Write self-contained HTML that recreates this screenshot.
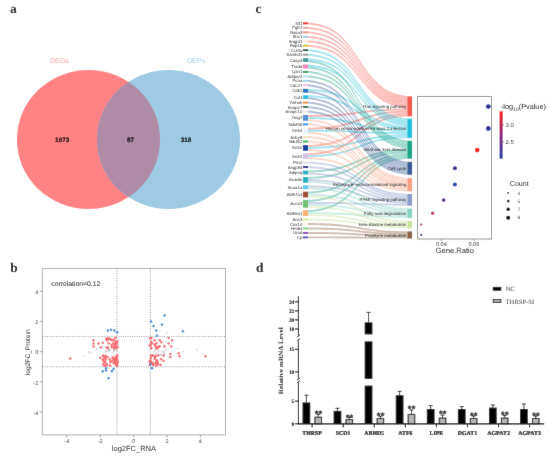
<!DOCTYPE html>
<html><head><meta charset="utf-8"><title>Figure</title>
<style>html,body{margin:0;padding:0;background:#fff;width:550px;height:459px;overflow:hidden}svg{display:block}text{text-rendering:geometricPrecision;filter:opacity(0.999)}</style>
</head><body>
<svg width="550" height="459" viewBox="0 0 550 459">
<defs><filter id="soft" x="0" y="0" width="550" height="459" filterUnits="userSpaceOnUse"><feConvolveMatrix order="3" kernelMatrix="0.00524 0.06192 0.00524 0.06192 0.73137 0.06192 0.00524 0.06192 0.00524" divisor="1" edgeMode="duplicate"/></filter></defs>
<g filter="url(#soft)">
<rect width="550" height="459" fill="#fff"/>
<text x="9.9" y="12.9" style="font-family:'Liberation Serif',serif;font-weight:bold;font-size:13.4px" fill="#000">a</text>
<text x="255.6" y="12.9" style="font-family:'Liberation Serif',serif;font-weight:bold;font-size:13.4px" fill="#000">c</text>
<text x="10.3" y="272.2" style="font-family:'Liberation Serif',serif;font-weight:bold;font-size:13.4px" fill="#000">b</text>
<text x="255.9" y="272.1" style="font-family:'Liberation Serif',serif;font-weight:bold;font-size:13.4px" fill="#000">d</text>
<defs><clipPath id="cpL"><ellipse cx="88.5" cy="139.5" rx="71.6" ry="69.6"/></clipPath></defs>
<ellipse cx="88.5" cy="139.5" rx="71.6" ry="69.6" fill="#ff8284"/>
<ellipse cx="168.5" cy="139.5" rx="71.6" ry="69.6" fill="#9fcae4"/>
<ellipse cx="168.5" cy="139.5" rx="71.6" ry="69.6" fill="#b08ba6" clip-path="url(#cpL)"/>
<text x="50" y="63.1" style="font-family:'Liberation Sans',sans-serif;font-size:7.1px" fill="#fba3a5">DEGs</text>
<text x="186.9" y="63.1" style="font-family:'Liberation Sans',sans-serif;font-size:7.1px" fill="#9dc9e6">DEPs</text>
<text x="62.2" y="141.6" text-anchor="middle" style="font-family:'Liberation Sans',sans-serif;font-weight:bold;font-size:6.4px" fill="#000" stroke="#000" stroke-width="0.15">1673</text>
<text x="130.6" y="141.6" text-anchor="middle" style="font-family:'Liberation Sans',sans-serif;font-weight:bold;font-size:6.4px" fill="#000" stroke="#000" stroke-width="0.15">87</text>
<text x="186" y="141.6" text-anchor="middle" style="font-family:'Liberation Sans',sans-serif;font-weight:bold;font-size:6.4px" fill="#000" stroke="#000" stroke-width="0.15">318</text>
<rect x="42.4" y="268.5" width="183.1" height="166.39999999999998" fill="none" stroke="#b4b4b4" stroke-width="1.1"/>
<line x1="116.90" y1="268.5" x2="116.90" y2="434.9" stroke="#555" stroke-width="0.7" stroke-dasharray="0.9 1.4"/>
<line x1="42.4" y1="366.81" x2="225.5" y2="366.81" stroke="#555" stroke-width="0.7" stroke-dasharray="0.9 1.4"/>
<line x1="150.30" y1="268.5" x2="150.30" y2="434.9" stroke="#555" stroke-width="0.7" stroke-dasharray="0.9 1.4"/>
<line x1="42.4" y1="336.59" x2="225.5" y2="336.59" stroke="#555" stroke-width="0.7" stroke-dasharray="0.9 1.4"/>
<line x1="66.80" y1="434.9" x2="66.80" y2="437.5" stroke="#6a6a6a" stroke-width="0.6"/>
<text x="66.80" y="443.4" text-anchor="middle" style="font-family:'Liberation Sans',sans-serif;font-size:5.6px" fill="#444">-4</text>
<line x1="39.6" y1="412.14" x2="42.4" y2="412.14" stroke="#6a6a6a" stroke-width="0.6"/>
<text x="38.3" y="414.74" text-anchor="end" style="font-family:'Liberation Sans',sans-serif;font-size:5.6px" fill="#444">-4</text>
<line x1="100.20" y1="434.9" x2="100.20" y2="437.5" stroke="#6a6a6a" stroke-width="0.6"/>
<text x="100.20" y="443.4" text-anchor="middle" style="font-family:'Liberation Sans',sans-serif;font-size:5.6px" fill="#444">-2</text>
<line x1="39.6" y1="381.92" x2="42.4" y2="381.92" stroke="#6a6a6a" stroke-width="0.6"/>
<text x="38.3" y="384.52" text-anchor="end" style="font-family:'Liberation Sans',sans-serif;font-size:5.6px" fill="#444">-2</text>
<line x1="133.60" y1="434.9" x2="133.60" y2="437.5" stroke="#6a6a6a" stroke-width="0.6"/>
<text x="133.60" y="443.4" text-anchor="middle" style="font-family:'Liberation Sans',sans-serif;font-size:5.6px" fill="#444">0</text>
<line x1="39.6" y1="351.70" x2="42.4" y2="351.70" stroke="#6a6a6a" stroke-width="0.6"/>
<text x="38.3" y="354.30" text-anchor="end" style="font-family:'Liberation Sans',sans-serif;font-size:5.6px" fill="#444">0</text>
<line x1="167.00" y1="434.9" x2="167.00" y2="437.5" stroke="#6a6a6a" stroke-width="0.6"/>
<text x="167.00" y="443.4" text-anchor="middle" style="font-family:'Liberation Sans',sans-serif;font-size:5.6px" fill="#444">2</text>
<line x1="39.6" y1="321.48" x2="42.4" y2="321.48" stroke="#6a6a6a" stroke-width="0.6"/>
<text x="38.3" y="324.08" text-anchor="end" style="font-family:'Liberation Sans',sans-serif;font-size:5.6px" fill="#444">2</text>
<line x1="200.40" y1="434.9" x2="200.40" y2="437.5" stroke="#6a6a6a" stroke-width="0.6"/>
<text x="200.40" y="443.4" text-anchor="middle" style="font-family:'Liberation Sans',sans-serif;font-size:5.6px" fill="#444">4</text>
<line x1="39.6" y1="291.26" x2="42.4" y2="291.26" stroke="#6a6a6a" stroke-width="0.6"/>
<text x="38.3" y="293.86" text-anchor="end" style="font-family:'Liberation Sans',sans-serif;font-size:5.6px" fill="#444">4</text>
<text x="51.3" y="286.3" style="font-family:'Liberation Sans',sans-serif;font-size:6.8px" fill="#000">correlation=0.12</text>
<text x="133.9" y="450.6" text-anchor="middle" style="font-family:'Liberation Sans',sans-serif;font-size:7.5px" fill="#1a1a1a">log2FC_RNA</text>
<text transform="translate(30.2,352.2) rotate(-90)" text-anchor="middle" style="font-family:'Liberation Sans',sans-serif;font-size:6.6px" fill="#1a1a1a">log2FC_Protein</text>
<circle cx="163.49" cy="345.01" r="0.75" fill="#c8c8c8"/>
<circle cx="116.03" cy="349.61" r="0.75" fill="#c8c8c8"/>
<circle cx="110.38" cy="350.21" r="0.75" fill="#c8c8c8"/>
<circle cx="158.80" cy="351.00" r="0.75" fill="#c8c8c8"/>
<circle cx="108.14" cy="347.06" r="0.75" fill="#c8c8c8"/>
<circle cx="115.34" cy="349.80" r="0.75" fill="#c8c8c8"/>
<circle cx="114.73" cy="349.30" r="0.75" fill="#c8c8c8"/>
<circle cx="108.31" cy="349.51" r="0.75" fill="#c8c8c8"/>
<circle cx="108.67" cy="350.48" r="0.75" fill="#c8c8c8"/>
<circle cx="108.91" cy="351.19" r="0.75" fill="#c8c8c8"/>
<circle cx="164.18" cy="353.54" r="0.75" fill="#c8c8c8"/>
<circle cx="113.23" cy="349.52" r="0.75" fill="#c8c8c8"/>
<circle cx="163.45" cy="352.10" r="0.75" fill="#c8c8c8"/>
<circle cx="110.62" cy="354.79" r="0.75" fill="#c8c8c8"/>
<circle cx="157.65" cy="346.26" r="0.75" fill="#c8c8c8"/>
<circle cx="155.56" cy="350.33" r="0.75" fill="#c8c8c8"/>
<circle cx="157.16" cy="346.83" r="0.75" fill="#c8c8c8"/>
<circle cx="151.28" cy="359.38" r="0.75" fill="#c8c8c8"/>
<circle cx="165.23" cy="350.35" r="0.75" fill="#c8c8c8"/>
<circle cx="161.89" cy="354.48" r="0.75" fill="#c8c8c8"/>
<circle cx="159.48" cy="354.35" r="0.75" fill="#c8c8c8"/>
<circle cx="154.02" cy="351.59" r="0.75" fill="#c8c8c8"/>
<circle cx="166.88" cy="349.78" r="0.75" fill="#c8c8c8"/>
<circle cx="177.66" cy="348.39" r="0.75" fill="#c8c8c8"/>
<circle cx="165.13" cy="353.22" r="0.75" fill="#c8c8c8"/>
<circle cx="114.25" cy="355.07" r="0.75" fill="#c8c8c8"/>
<circle cx="116.72" cy="350.53" r="0.75" fill="#c8c8c8"/>
<circle cx="156.60" cy="353.79" r="0.75" fill="#c8c8c8"/>
<circle cx="155.09" cy="346.43" r="0.75" fill="#c8c8c8"/>
<circle cx="103.81" cy="346.39" r="0.75" fill="#c8c8c8"/>
<circle cx="156.22" cy="355.50" r="0.75" fill="#c8c8c8"/>
<circle cx="113.76" cy="351.26" r="0.75" fill="#c8c8c8"/>
<circle cx="107.87" cy="347.79" r="0.75" fill="#c8c8c8"/>
<circle cx="96.40" cy="348.77" r="0.75" fill="#c8c8c8"/>
<circle cx="96.39" cy="349.99" r="0.75" fill="#c8c8c8"/>
<circle cx="157.43" cy="349.39" r="0.75" fill="#c8c8c8"/>
<circle cx="83.73" cy="355.95" r="0.75" fill="#c8c8c8"/>
<circle cx="105.63" cy="350.78" r="0.75" fill="#c8c8c8"/>
<circle cx="160.70" cy="354.25" r="0.75" fill="#c8c8c8"/>
<circle cx="158.46" cy="351.96" r="0.75" fill="#c8c8c8"/>
<circle cx="112.42" cy="352.73" r="0.75" fill="#c8c8c8"/>
<circle cx="163.95" cy="352.99" r="0.75" fill="#c8c8c8"/>
<circle cx="158.30" cy="351.09" r="0.75" fill="#c8c8c8"/>
<circle cx="105.05" cy="355.02" r="0.75" fill="#c8c8c8"/>
<circle cx="89.57" cy="351.87" r="0.75" fill="#c8c8c8"/>
<circle cx="150.74" cy="354.40" r="0.75" fill="#c8c8c8"/>
<circle cx="109.80" cy="349.91" r="0.75" fill="#c8c8c8"/>
<circle cx="164.38" cy="346.87" r="0.75" fill="#c8c8c8"/>
<circle cx="162.48" cy="351.20" r="0.75" fill="#c8c8c8"/>
<circle cx="109.65" cy="349.04" r="0.75" fill="#c8c8c8"/>
<circle cx="107.09" cy="351.21" r="0.75" fill="#c8c8c8"/>
<circle cx="90.77" cy="353.21" r="0.75" fill="#c8c8c8"/>
<circle cx="114.22" cy="350.87" r="0.75" fill="#c8c8c8"/>
<circle cx="161.47" cy="354.99" r="0.75" fill="#c8c8c8"/>
<circle cx="114.34" cy="350.19" r="0.75" fill="#c8c8c8"/>
<circle cx="155.18" cy="350.15" r="0.75" fill="#c8c8c8"/>
<circle cx="155.57" cy="353.61" r="0.75" fill="#c8c8c8"/>
<circle cx="105.98" cy="352.30" r="0.75" fill="#c8c8c8"/>
<circle cx="102.87" cy="358.70" r="0.75" fill="#c8c8c8"/>
<circle cx="113.70" cy="348.61" r="0.75" fill="#c8c8c8"/>
<circle cx="113.64" cy="340.37" r="1.25" fill="#f56e72"/>
<circle cx="115.67" cy="342.76" r="1.25" fill="#f56e72"/>
<circle cx="108.00" cy="348.02" r="1.25" fill="#f56e72"/>
<circle cx="109.83" cy="338.91" r="1.25" fill="#f56e72"/>
<circle cx="111.19" cy="339.81" r="1.25" fill="#f56e72"/>
<circle cx="113.43" cy="339.68" r="1.25" fill="#f56e72"/>
<circle cx="107.09" cy="347.26" r="1.25" fill="#f56e72"/>
<circle cx="116.96" cy="343.12" r="1.25" fill="#f56e72"/>
<circle cx="107.20" cy="340.23" r="1.25" fill="#f56e72"/>
<circle cx="112.07" cy="340.24" r="1.25" fill="#f56e72"/>
<circle cx="116.97" cy="347.14" r="1.25" fill="#f56e72"/>
<circle cx="111.91" cy="347.37" r="1.25" fill="#f56e72"/>
<circle cx="117.31" cy="341.25" r="1.25" fill="#f56e72"/>
<circle cx="113.24" cy="343.43" r="1.25" fill="#f56e72"/>
<circle cx="109.14" cy="339.07" r="1.25" fill="#f56e72"/>
<circle cx="117.33" cy="346.60" r="1.25" fill="#f56e72"/>
<circle cx="117.36" cy="347.61" r="1.25" fill="#f56e72"/>
<circle cx="114.28" cy="348.37" r="1.25" fill="#f56e72"/>
<circle cx="106.75" cy="347.99" r="1.25" fill="#f56e72"/>
<circle cx="115.67" cy="338.09" r="1.25" fill="#f56e72"/>
<circle cx="112.11" cy="346.51" r="1.25" fill="#f56e72"/>
<circle cx="116.11" cy="343.15" r="1.25" fill="#f56e72"/>
<circle cx="108.54" cy="343.15" r="1.25" fill="#f56e72"/>
<circle cx="116.34" cy="342.99" r="1.25" fill="#f56e72"/>
<circle cx="107.14" cy="338.58" r="1.25" fill="#f56e72"/>
<circle cx="106.13" cy="338.97" r="1.25" fill="#f56e72"/>
<circle cx="116.67" cy="343.81" r="1.25" fill="#f56e72"/>
<circle cx="114.71" cy="344.41" r="1.25" fill="#f56e72"/>
<circle cx="115.76" cy="341.38" r="1.25" fill="#f56e72"/>
<circle cx="114.57" cy="346.36" r="1.25" fill="#f56e72"/>
<circle cx="115.88" cy="347.35" r="1.25" fill="#f56e72"/>
<circle cx="109.13" cy="338.46" r="1.25" fill="#f56e72"/>
<circle cx="111.51" cy="344.69" r="1.25" fill="#f56e72"/>
<circle cx="116.30" cy="347.18" r="1.25" fill="#f56e72"/>
<circle cx="113.66" cy="363.26" r="1.25" fill="#f56e72"/>
<circle cx="117.19" cy="364.79" r="1.25" fill="#f56e72"/>
<circle cx="116.84" cy="362.39" r="1.25" fill="#f56e72"/>
<circle cx="116.41" cy="362.82" r="1.25" fill="#f56e72"/>
<circle cx="102.86" cy="359.48" r="1.25" fill="#f56e72"/>
<circle cx="114.30" cy="358.96" r="1.25" fill="#f56e72"/>
<circle cx="117.20" cy="359.06" r="1.25" fill="#f56e72"/>
<circle cx="115.32" cy="360.08" r="1.25" fill="#f56e72"/>
<circle cx="109.60" cy="359.26" r="1.25" fill="#f56e72"/>
<circle cx="112.91" cy="358.28" r="1.25" fill="#f56e72"/>
<circle cx="103.73" cy="356.27" r="1.25" fill="#f56e72"/>
<circle cx="104.79" cy="357.55" r="1.25" fill="#f56e72"/>
<circle cx="105.81" cy="355.95" r="1.25" fill="#f56e72"/>
<circle cx="115.99" cy="365.02" r="1.25" fill="#f56e72"/>
<circle cx="116.72" cy="363.36" r="1.25" fill="#f56e72"/>
<circle cx="107.12" cy="364.40" r="1.25" fill="#f56e72"/>
<circle cx="110.14" cy="365.46" r="1.25" fill="#f56e72"/>
<circle cx="114.50" cy="360.94" r="1.25" fill="#f56e72"/>
<circle cx="112.95" cy="360.48" r="1.25" fill="#f56e72"/>
<circle cx="115.44" cy="358.10" r="1.25" fill="#f56e72"/>
<circle cx="107.58" cy="357.05" r="1.25" fill="#f56e72"/>
<circle cx="105.36" cy="357.99" r="1.25" fill="#f56e72"/>
<circle cx="117.39" cy="356.00" r="1.25" fill="#f56e72"/>
<circle cx="116.10" cy="361.73" r="1.25" fill="#f56e72"/>
<circle cx="116.42" cy="357.94" r="1.25" fill="#f56e72"/>
<circle cx="117.07" cy="355.15" r="1.25" fill="#f56e72"/>
<circle cx="102.86" cy="359.63" r="1.25" fill="#f56e72"/>
<circle cx="104.87" cy="361.88" r="1.25" fill="#f56e72"/>
<circle cx="117.35" cy="362.85" r="1.25" fill="#f56e72"/>
<circle cx="104.30" cy="365.71" r="1.25" fill="#f56e72"/>
<circle cx="116.08" cy="357.02" r="1.25" fill="#f56e72"/>
<circle cx="104.45" cy="361.96" r="1.25" fill="#f56e72"/>
<circle cx="112.70" cy="357.30" r="1.25" fill="#f56e72"/>
<circle cx="113.97" cy="362.44" r="1.25" fill="#f56e72"/>
<circle cx="116.00" cy="363.89" r="1.25" fill="#f56e72"/>
<circle cx="102.85" cy="355.43" r="1.25" fill="#f56e72"/>
<circle cx="117.39" cy="360.60" r="1.25" fill="#f56e72"/>
<circle cx="103.28" cy="360.70" r="1.25" fill="#f56e72"/>
<circle cx="116.23" cy="359.96" r="1.25" fill="#f56e72"/>
<circle cx="110.48" cy="362.20" r="1.25" fill="#f56e72"/>
<circle cx="110.51" cy="361.05" r="1.25" fill="#f56e72"/>
<circle cx="105.52" cy="365.73" r="1.25" fill="#f56e72"/>
<circle cx="115.64" cy="357.40" r="1.25" fill="#f56e72"/>
<circle cx="116.36" cy="357.22" r="1.25" fill="#f56e72"/>
<circle cx="105.68" cy="363.06" r="1.25" fill="#f56e72"/>
<circle cx="116.98" cy="365.94" r="1.25" fill="#f56e72"/>
<circle cx="103.18" cy="364.26" r="1.25" fill="#f56e72"/>
<circle cx="117.39" cy="361.92" r="1.25" fill="#f56e72"/>
<circle cx="105.73" cy="359.78" r="1.25" fill="#f56e72"/>
<circle cx="117.32" cy="362.36" r="1.25" fill="#f56e72"/>
<circle cx="151.94" cy="343.17" r="1.25" fill="#f56e72"/>
<circle cx="161.36" cy="342.16" r="1.25" fill="#f56e72"/>
<circle cx="156.09" cy="348.19" r="1.25" fill="#f56e72"/>
<circle cx="150.39" cy="345.75" r="1.25" fill="#f56e72"/>
<circle cx="149.80" cy="344.72" r="1.25" fill="#f56e72"/>
<circle cx="151.45" cy="337.96" r="1.25" fill="#f56e72"/>
<circle cx="151.40" cy="348.30" r="1.25" fill="#f56e72"/>
<circle cx="159.53" cy="346.31" r="1.25" fill="#f56e72"/>
<circle cx="150.37" cy="345.03" r="1.25" fill="#f56e72"/>
<circle cx="149.94" cy="345.64" r="1.25" fill="#f56e72"/>
<circle cx="155.51" cy="345.98" r="1.25" fill="#f56e72"/>
<circle cx="157.53" cy="347.69" r="1.25" fill="#f56e72"/>
<circle cx="158.27" cy="347.11" r="1.25" fill="#f56e72"/>
<circle cx="154.47" cy="344.39" r="1.25" fill="#f56e72"/>
<circle cx="151.19" cy="341.83" r="1.25" fill="#f56e72"/>
<circle cx="149.94" cy="338.26" r="1.25" fill="#f56e72"/>
<circle cx="158.96" cy="346.99" r="1.25" fill="#f56e72"/>
<circle cx="159.74" cy="340.15" r="1.25" fill="#f56e72"/>
<circle cx="154.61" cy="340.36" r="1.25" fill="#f56e72"/>
<circle cx="156.56" cy="343.30" r="1.25" fill="#f56e72"/>
<circle cx="151.07" cy="361.85" r="1.25" fill="#f56e72"/>
<circle cx="150.17" cy="364.12" r="1.25" fill="#f56e72"/>
<circle cx="156.46" cy="360.68" r="1.25" fill="#f56e72"/>
<circle cx="152.46" cy="362.76" r="1.25" fill="#f56e72"/>
<circle cx="153.37" cy="365.06" r="1.25" fill="#f56e72"/>
<circle cx="157.11" cy="361.29" r="1.25" fill="#f56e72"/>
<circle cx="158.20" cy="355.20" r="1.25" fill="#f56e72"/>
<circle cx="155.99" cy="363.83" r="1.25" fill="#f56e72"/>
<circle cx="156.40" cy="365.57" r="1.25" fill="#f56e72"/>
<circle cx="155.30" cy="355.96" r="1.25" fill="#f56e72"/>
<circle cx="149.84" cy="362.05" r="1.25" fill="#f56e72"/>
<circle cx="161.12" cy="359.18" r="1.25" fill="#f56e72"/>
<circle cx="152.71" cy="355.58" r="1.25" fill="#f56e72"/>
<circle cx="149.81" cy="360.89" r="1.25" fill="#f56e72"/>
<circle cx="150.77" cy="357.93" r="1.25" fill="#f56e72"/>
<circle cx="152.78" cy="355.80" r="1.25" fill="#f56e72"/>
<circle cx="160.55" cy="364.93" r="1.25" fill="#f56e72"/>
<circle cx="149.97" cy="360.83" r="1.25" fill="#f56e72"/>
<circle cx="156.99" cy="360.25" r="1.25" fill="#f56e72"/>
<circle cx="158.13" cy="364.36" r="1.25" fill="#f56e72"/>
<circle cx="150.70" cy="363.37" r="1.25" fill="#f56e72"/>
<circle cx="150.67" cy="362.19" r="1.25" fill="#f56e72"/>
<circle cx="152.82" cy="364.35" r="1.25" fill="#f56e72"/>
<circle cx="149.92" cy="365.07" r="1.25" fill="#f56e72"/>
<circle cx="151.09" cy="355.54" r="1.25" fill="#f56e72"/>
<circle cx="155.15" cy="357.21" r="1.25" fill="#f56e72"/>
<circle cx="154.66" cy="358.68" r="1.25" fill="#f56e72"/>
<circle cx="155.44" cy="362.67" r="1.25" fill="#f56e72"/>
<circle cx="93.52" cy="340.37" r="1.25" fill="#f56e72"/>
<circle cx="93.52" cy="343.39" r="1.25" fill="#f56e72"/>
<circle cx="93.52" cy="346.41" r="1.25" fill="#f56e72"/>
<circle cx="98.53" cy="343.39" r="1.25" fill="#f56e72"/>
<circle cx="102.70" cy="342.63" r="1.25" fill="#f56e72"/>
<circle cx="101.03" cy="347.17" r="1.25" fill="#f56e72"/>
<circle cx="100.20" cy="357.74" r="1.25" fill="#f56e72"/>
<circle cx="70.14" cy="358.50" r="1.25" fill="#f56e72"/>
<circle cx="205.41" cy="356.23" r="1.25" fill="#f56e72"/>
<circle cx="170.34" cy="356.99" r="1.25" fill="#f56e72"/>
<circle cx="179.52" cy="356.23" r="1.25" fill="#f56e72"/>
<circle cx="178.69" cy="353.21" r="1.25" fill="#f56e72"/>
<circle cx="170.34" cy="353.97" r="1.25" fill="#f56e72"/>
<circle cx="163.66" cy="355.48" r="1.25" fill="#f56e72"/>
<circle cx="172.01" cy="340.37" r="1.25" fill="#f56e72"/>
<circle cx="168.67" cy="338.10" r="1.25" fill="#f56e72"/>
<circle cx="168.67" cy="343.39" r="1.25" fill="#f56e72"/>
<circle cx="164.50" cy="346.41" r="1.25" fill="#f56e72"/>
<circle cx="171.17" cy="346.41" r="1.25" fill="#f56e72"/>
<circle cx="157.81" cy="363.03" r="1.25" fill="#f56e72"/>
<circle cx="163.66" cy="360.77" r="1.25" fill="#f56e72"/>
<circle cx="107.72" cy="330.55" r="1.25" fill="#3f88d4"/>
<circle cx="111.05" cy="329.79" r="1.25" fill="#3f88d4"/>
<circle cx="114.39" cy="330.55" r="1.25" fill="#3f88d4"/>
<circle cx="117.23" cy="332.36" r="1.25" fill="#3f88d4"/>
<circle cx="106.05" cy="368.32" r="1.25" fill="#3f88d4"/>
<circle cx="102.70" cy="371.34" r="1.25" fill="#3f88d4"/>
<circle cx="111.89" cy="371.34" r="1.25" fill="#3f88d4"/>
<circle cx="113.56" cy="369.08" r="1.25" fill="#3f88d4"/>
<circle cx="108.55" cy="378.14" r="1.25" fill="#3f88d4"/>
<circle cx="106.05" cy="370.59" r="1.25" fill="#3f88d4"/>
<circle cx="164.50" cy="315.44" r="1.25" fill="#3f88d4"/>
<circle cx="151.13" cy="321.48" r="1.25" fill="#3f88d4"/>
<circle cx="161.99" cy="324.50" r="1.25" fill="#3f88d4"/>
<circle cx="153.64" cy="326.01" r="1.25" fill="#3f88d4"/>
<circle cx="156.14" cy="330.55" r="1.25" fill="#3f88d4"/>
<circle cx="182.87" cy="331.30" r="1.25" fill="#3f88d4"/>
<circle cx="156.98" cy="335.83" r="1.25" fill="#3f88d4"/>
<circle cx="151.97" cy="368.32" r="1.25" fill="#3f88d4"/>
<circle cx="150.30" cy="364.54" r="1.25" fill="#3f88d4"/>
<circle cx="197.06" cy="349.43" r="0.75" fill="#c8c8c8"/>
<circle cx="88.51" cy="352.46" r="0.75" fill="#c8c8c8"/>
<circle cx="167.00" cy="332.81" r="0.75" fill="#c8c8c8"/>
<circle cx="166.16" cy="341.88" r="0.75" fill="#c8c8c8"/>
<circle cx="183.70" cy="351.70" r="0.75" fill="#c8c8c8"/>
<rect x="302.9" y="22.40" width="5.10" height="1.92" fill="#f31b1b"/>
<text x="302.3" y="24.91" text-anchor="end" style="font-family:'Liberation Sans',sans-serif;font-size:4.3px" fill="#262626">Nf1</text>
<rect x="302.9" y="26.87" width="5.10" height="1.92" fill="#d6a0a0"/>
<text x="302.3" y="29.38" text-anchor="end" style="font-family:'Liberation Sans',sans-serif;font-size:4.3px" fill="#262626">Fgfr2</text>
<rect x="302.9" y="31.34" width="5.10" height="1.92" fill="#f18a8c"/>
<text x="302.3" y="33.85" text-anchor="end" style="font-family:'Liberation Sans',sans-serif;font-size:4.3px" fill="#262626">Rasa3</text>
<rect x="302.9" y="35.81" width="5.10" height="1.92" fill="#a3c3ea"/>
<text x="302.3" y="38.32" text-anchor="end" style="font-family:'Liberation Sans',sans-serif;font-size:4.3px" fill="#262626">Shc1</text>
<rect x="302.9" y="40.28" width="5.10" height="1.92" fill="#fdebd8"/>
<text x="302.3" y="42.79" text-anchor="end" style="font-family:'Liberation Sans',sans-serif;font-size:4.3px" fill="#262626">Angpt1</text>
<rect x="302.9" y="44.75" width="5.10" height="1.92" fill="#c9c61a"/>
<text x="302.3" y="47.26" text-anchor="end" style="font-family:'Liberation Sans',sans-serif;font-size:4.3px" fill="#262626">Rap1b</text>
<rect x="302.9" y="49.22" width="5.10" height="1.92" fill="#17584a"/>
<text x="302.3" y="51.73" text-anchor="end" style="font-family:'Liberation Sans',sans-serif;font-size:4.3px" fill="#262626">Cul4a</text>
<rect x="302.9" y="53.69" width="5.10" height="1.92" fill="#929292"/>
<text x="302.3" y="56.20" text-anchor="end" style="font-family:'Liberation Sans',sans-serif;font-size:4.3px" fill="#262626">Samhd1</text>
<rect x="302.9" y="58.16" width="5.10" height="3.84" fill="#3c9c9c"/>
<text x="302.3" y="61.63" text-anchor="end" style="font-family:'Liberation Sans',sans-serif;font-size:4.3px" fill="#262626">Casp3</text>
<rect x="302.9" y="64.55" width="5.10" height="3.84" fill="#f283c2"/>
<text x="302.3" y="68.02" text-anchor="end" style="font-family:'Liberation Sans',sans-serif;font-size:4.3px" fill="#262626">Tradd</text>
<rect x="302.9" y="70.94" width="5.10" height="1.92" fill="#1a9a5a"/>
<text x="302.3" y="73.45" text-anchor="end" style="font-family:'Liberation Sans',sans-serif;font-size:4.3px" fill="#262626">Lpin1</text>
<rect x="302.9" y="75.41" width="5.10" height="1.92" fill="#b3e2f1"/>
<text x="302.3" y="77.92" text-anchor="end" style="font-family:'Liberation Sans',sans-serif;font-size:4.3px" fill="#262626">Adipor2</text>
<rect x="302.9" y="79.88" width="5.10" height="1.92" fill="#a9d0ea"/>
<text x="302.3" y="82.39" text-anchor="end" style="font-family:'Liberation Sans',sans-serif;font-size:4.3px" fill="#262626">Pcna</text>
<rect x="302.9" y="84.35" width="5.10" height="1.92" fill="#f7b9d9"/>
<text x="302.3" y="86.86" text-anchor="end" style="font-family:'Liberation Sans',sans-serif;font-size:4.3px" fill="#262626">Cdc27</text>
<rect x="302.9" y="88.82" width="5.10" height="3.84" fill="#1b70b9"/>
<text x="302.3" y="92.29" text-anchor="end" style="font-family:'Liberation Sans',sans-serif;font-size:4.3px" fill="#262626">Cdk1</text>
<rect x="302.9" y="95.21" width="5.10" height="3.84" fill="#24c1e1"/>
<text x="302.3" y="98.68" text-anchor="end" style="font-family:'Liberation Sans',sans-serif;font-size:4.3px" fill="#262626">Cul1</text>
<rect x="302.9" y="101.60" width="5.10" height="1.92" fill="#f88a32"/>
<text x="302.3" y="104.11" text-anchor="end" style="font-family:'Liberation Sans',sans-serif;font-size:4.3px" fill="#262626">Ywhah</text>
<rect x="302.9" y="106.07" width="5.10" height="1.92" fill="#127232"/>
<text x="302.3" y="108.58" text-anchor="end" style="font-family:'Liberation Sans',sans-serif;font-size:4.3px" fill="#262626">Anapc7</text>
<rect x="302.9" y="110.54" width="5.10" height="1.92" fill="#eeeae0"/>
<text x="302.3" y="113.05" text-anchor="end" style="font-family:'Liberation Sans',sans-serif;font-size:4.3px" fill="#262626">Anapc10</text>
<rect x="302.9" y="115.01" width="5.10" height="5.76" fill="#5291d8"/>
<text x="302.3" y="119.44" text-anchor="end" style="font-family:'Liberation Sans',sans-serif;font-size:4.3px" fill="#262626">Gng7</text>
<rect x="302.9" y="123.32" width="5.10" height="1.92" fill="#2191e1"/>
<text x="302.3" y="125.83" text-anchor="end" style="font-family:'Liberation Sans',sans-serif;font-size:4.3px" fill="#262626">Ndufb5</text>
<rect x="302.9" y="127.79" width="5.10" height="5.76" fill="#e9f4fa"/>
<text x="302.3" y="132.22" text-anchor="end" style="font-family:'Liberation Sans',sans-serif;font-size:4.3px" fill="#262626">Gnb4</text>
<rect x="302.9" y="136.10" width="5.10" height="1.92" fill="#f9e1b1"/>
<text x="302.3" y="138.61" text-anchor="end" style="font-family:'Liberation Sans',sans-serif;font-size:4.3px" fill="#262626">Adcy8</text>
<rect x="302.9" y="140.57" width="5.10" height="1.92" fill="#22b142"/>
<text x="302.3" y="143.08" text-anchor="end" style="font-family:'Liberation Sans',sans-serif;font-size:4.3px" fill="#262626">Ndufs2</text>
<rect x="302.9" y="145.04" width="5.10" height="5.76" fill="#1242a2"/>
<text x="302.3" y="149.47" text-anchor="end" style="font-family:'Liberation Sans',sans-serif;font-size:4.3px" fill="#262626">Gnb2</text>
<rect x="302.9" y="153.35" width="5.10" height="5.76" fill="#d2c2e2"/>
<text x="302.3" y="157.78" text-anchor="end" style="font-family:'Liberation Sans',sans-serif;font-size:4.3px" fill="#262626">Gnb1</text>
<rect x="302.9" y="161.66" width="5.10" height="1.92" fill="#dadae9"/>
<text x="302.3" y="164.17" text-anchor="end" style="font-family:'Liberation Sans',sans-serif;font-size:4.3px" fill="#262626">Plin2</text>
<rect x="302.9" y="166.13" width="5.10" height="1.92" fill="#121a82"/>
<text x="302.3" y="168.64" text-anchor="end" style="font-family:'Liberation Sans',sans-serif;font-size:4.3px" fill="#262626">Angptl4</text>
<rect x="302.9" y="170.60" width="5.10" height="3.84" fill="#22b1c9"/>
<text x="302.3" y="174.07" text-anchor="end" style="font-family:'Liberation Sans',sans-serif;font-size:4.3px" fill="#262626">Adipoq</text>
<rect x="302.9" y="176.99" width="5.10" height="5.76" fill="#1ab1c1"/>
<text x="302.3" y="181.42" text-anchor="end" style="font-family:'Liberation Sans',sans-serif;font-size:4.3px" fill="#262626">Acadm</text>
<rect x="302.9" y="185.30" width="5.10" height="3.84" fill="#62c9f1"/>
<text x="302.3" y="188.77" text-anchor="end" style="font-family:'Liberation Sans',sans-serif;font-size:4.3px" fill="#262626">Acaa1a</text>
<rect x="302.9" y="191.69" width="5.10" height="5.76" fill="#a24a32"/>
<text x="302.3" y="196.12" text-anchor="end" style="font-family:'Liberation Sans',sans-serif;font-size:4.3px" fill="#262626">Aldh7a1</text>
<rect x="302.9" y="200.00" width="5.10" height="7.68" fill="#72c172"/>
<text x="302.3" y="205.39" text-anchor="end" style="font-family:'Liberation Sans',sans-serif;font-size:4.3px" fill="#262626">Acox3</text>
<rect x="302.9" y="210.23" width="5.10" height="5.76" fill="#f9b172"/>
<text x="302.3" y="214.66" text-anchor="end" style="font-family:'Liberation Sans',sans-serif;font-size:4.3px" fill="#262626">Aldh9a1</text>
<rect x="302.9" y="218.54" width="5.10" height="1.92" fill="#d9e992"/>
<text x="302.3" y="221.05" text-anchor="end" style="font-family:'Liberation Sans',sans-serif;font-size:4.3px" fill="#262626">Aoc3</text>
<rect x="302.9" y="223.01" width="5.10" height="1.92" fill="#fbf3ea"/>
<text x="302.3" y="225.52" text-anchor="end" style="font-family:'Liberation Sans',sans-serif;font-size:4.3px" fill="#262626">Cox10</text>
<rect x="302.9" y="227.48" width="5.10" height="1.92" fill="#82d182"/>
<text x="302.3" y="229.99" text-anchor="end" style="font-family:'Liberation Sans',sans-serif;font-size:4.3px" fill="#262626">Hmbs</text>
<rect x="302.9" y="231.95" width="5.10" height="1.92" fill="#8242c2"/>
<text x="302.3" y="234.46" text-anchor="end" style="font-family:'Liberation Sans',sans-serif;font-size:4.3px" fill="#262626">Urod</text>
<rect x="302.9" y="236.42" width="5.10" height="1.92" fill="#5252c2"/>
<text x="302.3" y="238.93" text-anchor="end" style="font-family:'Liberation Sans',sans-serif;font-size:4.3px" fill="#262626">Cp</text>
<g fill-opacity="0.42">
<path d="M308.0,22.40 311.0,22.77 314.0,23.23 317.0,23.80 320.0,24.51 323.1,25.38 326.1,26.46 329.1,27.78 332.1,29.38 335.1,31.29 338.1,33.56 341.1,36.22 344.1,39.28 347.2,42.74 350.2,46.56 353.2,50.70 356.2,55.06 359.2,59.54 362.2,64.02 365.2,68.39 368.2,72.52 371.3,76.34 374.3,79.80 377.3,82.86 380.3,85.51 383.3,87.78 386.3,89.70 389.3,91.29 392.3,92.61 395.4,93.68 398.4,94.56 401.4,95.27 404.4,95.84 407.4,96.30 L407.4,98.30 404.4,97.84 401.4,97.27 398.4,96.56 395.4,95.68 392.3,94.60 389.3,93.29 386.3,91.69 383.3,89.77 380.3,87.50 377.3,84.84 374.3,81.78 371.3,78.32 368.2,74.50 365.2,70.36 362.2,65.99 359.2,61.50 356.2,57.02 353.2,52.65 350.2,48.51 347.2,44.68 344.1,41.22 341.1,38.16 338.1,35.50 335.1,33.22 332.1,31.30 329.1,29.71 326.1,28.39 323.1,27.31 320.0,26.43 317.0,25.72 314.0,25.15 311.0,24.69 308.0,24.32 Z" fill="#f5584c"/>
<path d="M308.0,26.87 311.0,27.23 314.0,27.67 317.0,28.22 320.0,28.91 323.1,29.76 326.1,30.80 329.1,32.07 332.1,33.61 335.1,35.46 338.1,37.66 341.1,40.23 344.1,43.18 347.2,46.53 350.2,50.22 353.2,54.22 356.2,58.44 359.2,62.77 362.2,67.10 365.2,71.32 368.2,75.32 371.3,79.01 374.3,82.35 377.3,85.31 380.3,87.87 383.3,90.07 386.3,91.92 389.3,93.46 392.3,94.73 395.4,95.77 398.4,96.62 401.4,97.30 404.4,97.86 407.4,98.30 L407.4,100.30 404.4,99.86 401.4,99.30 398.4,98.62 395.4,97.77 392.3,96.73 389.3,95.45 386.3,93.91 383.3,92.06 380.3,89.86 377.3,87.29 374.3,84.33 371.3,80.99 368.2,77.29 365.2,73.29 362.2,69.07 359.2,64.73 356.2,60.39 353.2,56.17 350.2,52.17 347.2,48.47 344.1,45.12 341.1,42.16 338.1,39.59 335.1,37.39 332.1,35.54 329.1,34.00 326.1,32.72 323.1,31.68 320.0,30.83 317.0,30.14 314.0,29.59 311.0,29.15 308.0,28.79 Z" fill="#f5584c"/>
<path d="M308.0,31.34 311.0,31.68 314.0,32.11 317.0,32.64 320.0,33.31 323.1,34.13 326.1,35.13 329.1,36.36 332.1,37.85 335.1,39.64 338.1,41.76 341.1,44.24 344.1,47.09 347.2,50.32 350.2,53.89 353.2,57.75 356.2,61.82 359.2,66.00 362.2,70.18 365.2,74.25 368.2,78.11 371.3,81.68 374.3,84.90 377.3,87.76 380.3,90.23 383.3,92.35 386.3,94.14 389.3,95.63 392.3,96.85 395.4,97.86 398.4,98.68 401.4,99.34 404.4,99.87 407.4,100.30 L407.4,102.30 404.4,101.87 401.4,101.34 398.4,100.68 395.4,99.86 392.3,98.85 389.3,97.62 386.3,96.13 383.3,94.34 380.3,92.22 377.3,89.74 374.3,86.88 371.3,83.66 368.2,80.08 365.2,76.22 362.2,72.15 359.2,67.96 356.2,63.77 353.2,59.70 350.2,55.83 347.2,52.26 344.1,49.03 341.1,46.17 338.1,43.69 335.1,41.57 332.1,39.78 329.1,38.29 326.1,37.06 323.1,36.05 320.0,35.23 317.0,34.57 314.0,34.03 311.0,33.60 308.0,33.26 Z" fill="#f5584c"/>
<path d="M308.0,35.81 311.0,36.14 314.0,36.55 317.0,37.07 320.0,37.71 323.1,38.50 326.1,39.47 329.1,40.65 332.1,42.09 335.1,43.81 338.1,45.85 341.1,48.24 344.1,51.00 347.2,54.11 350.2,57.55 353.2,61.27 356.2,65.20 359.2,69.23 362.2,73.26 365.2,77.18 368.2,80.91 371.3,84.35 374.3,87.45 377.3,90.20 380.3,92.59 383.3,94.64 386.3,96.36 389.3,97.79 392.3,98.98 395.4,99.95 398.4,100.74 401.4,101.37 404.4,101.89 407.4,102.30 L407.4,104.30 404.4,103.89 401.4,103.37 398.4,102.73 395.4,101.94 392.3,100.97 389.3,99.79 386.3,98.35 383.3,96.63 380.3,94.58 377.3,92.19 374.3,89.44 371.3,86.32 368.2,82.88 365.2,79.15 362.2,75.23 359.2,71.19 356.2,67.15 353.2,63.22 350.2,59.49 347.2,56.05 344.1,52.93 341.1,50.18 338.1,47.79 335.1,45.74 332.1,44.01 329.1,42.58 326.1,41.39 323.1,40.42 320.0,39.63 317.0,38.99 314.0,38.47 311.0,38.06 308.0,37.73 Z" fill="#f5584c"/>
<path d="M308.0,40.28 311.0,40.60 314.0,41.00 317.0,41.49 320.0,42.11 323.1,42.87 326.1,43.80 329.1,44.94 332.1,46.32 335.1,47.98 338.1,49.95 341.1,52.25 344.1,54.90 347.2,57.90 350.2,61.21 353.2,64.79 356.2,68.57 359.2,72.46 362.2,76.34 365.2,80.12 368.2,83.70 371.3,87.01 374.3,90.01 377.3,92.65 380.3,94.95 383.3,96.92 386.3,98.58 389.3,99.96 392.3,101.10 395.4,102.03 398.4,102.79 401.4,103.41 404.4,103.90 407.4,104.30 L407.4,106.30 404.4,105.90 401.4,105.41 398.4,104.79 395.4,104.03 392.3,103.10 389.3,101.96 386.3,100.57 383.3,98.91 380.3,96.94 377.3,94.64 374.3,91.99 371.3,88.99 368.2,85.67 365.2,82.09 362.2,78.30 359.2,74.42 356.2,70.53 353.2,66.74 350.2,63.16 347.2,59.84 344.1,56.84 341.1,54.19 338.1,51.88 335.1,49.91 332.1,48.25 329.1,46.87 326.1,45.72 323.1,44.79 320.0,44.03 317.0,43.41 314.0,42.92 311.0,42.52 308.0,42.20 Z" fill="#f5584c"/>
<path d="M308.0,44.75 311.0,45.06 314.0,45.44 317.0,45.91 320.0,46.51 323.1,47.24 326.1,48.13 329.1,49.23 332.1,50.56 335.1,52.16 338.1,54.05 341.1,56.26 344.1,58.81 347.2,61.69 350.2,64.87 353.2,68.32 356.2,71.95 359.2,75.68 362.2,79.42 365.2,83.05 368.2,86.49 371.3,89.68 374.3,92.56 377.3,95.10 380.3,97.32 383.3,99.21 386.3,100.80 389.3,102.13 392.3,103.22 395.4,104.12 398.4,104.85 401.4,105.44 404.4,105.92 407.4,106.30 L407.4,108.30 404.4,107.92 401.4,107.44 398.4,106.85 395.4,106.12 392.3,105.22 389.3,104.12 386.3,102.79 383.3,101.20 380.3,99.30 377.3,97.09 374.3,94.54 371.3,91.66 368.2,88.47 365.2,85.02 362.2,81.38 359.2,77.65 356.2,73.91 353.2,70.27 350.2,66.82 347.2,63.63 344.1,60.75 341.1,58.20 338.1,55.98 335.1,54.09 332.1,52.49 329.1,51.16 326.1,50.06 323.1,49.16 320.0,48.43 317.0,47.84 314.0,47.36 311.0,46.98 308.0,46.67 Z" fill="#f5584c"/>
<path d="M308.0,115.01 311.0,114.98 314.0,114.93 317.0,114.88 320.0,114.82 323.1,114.74 326.1,114.64 329.1,114.52 332.1,114.38 335.1,114.20 338.1,114.00 341.1,113.76 344.1,113.48 347.2,113.16 350.2,112.82 353.2,112.44 356.2,112.04 359.2,111.64 362.2,111.23 365.2,110.83 368.2,110.46 371.3,110.11 374.3,109.80 377.3,109.52 380.3,109.28 383.3,109.07 386.3,108.90 389.3,108.75 392.3,108.64 395.4,108.54 398.4,108.46 401.4,108.39 404.4,108.34 407.4,108.30 L407.4,110.30 404.4,110.34 401.4,110.39 398.4,110.46 395.4,110.53 392.3,110.63 389.3,110.75 386.3,110.89 383.3,111.06 380.3,111.27 377.3,111.51 374.3,111.78 371.3,112.09 368.2,112.43 365.2,112.80 362.2,113.20 359.2,113.60 356.2,114.00 353.2,114.39 350.2,114.76 347.2,115.11 344.1,115.42 341.1,115.69 338.1,115.93 335.1,116.13 332.1,116.30 329.1,116.45 326.1,116.57 323.1,116.66 320.0,116.74 317.0,116.80 314.0,116.86 311.0,116.90 308.0,116.93 Z" fill="#f5584c"/>
<path d="M308.0,127.79 311.0,127.70 314.0,127.59 317.0,127.46 320.0,127.29 323.1,127.08 326.1,126.83 329.1,126.52 332.1,126.14 335.1,125.69 338.1,125.15 341.1,124.52 344.1,123.80 347.2,122.98 350.2,122.07 353.2,121.09 356.2,120.06 359.2,119.00 362.2,117.94 365.2,116.91 368.2,115.93 371.3,115.02 374.3,114.21 377.3,113.48 380.3,112.85 383.3,112.32 386.3,111.86 389.3,111.49 392.3,111.17 395.4,110.92 398.4,110.71 401.4,110.54 404.4,110.41 407.4,110.30 L407.4,112.30 404.4,112.41 401.4,112.54 398.4,112.71 395.4,112.92 392.3,113.17 389.3,113.48 386.3,113.86 383.3,114.31 380.3,114.84 377.3,115.47 374.3,116.19 371.3,117.00 368.2,117.90 365.2,118.88 362.2,119.90 359.2,120.96 356.2,122.02 353.2,123.04 350.2,124.02 347.2,124.92 344.1,125.73 341.1,126.45 338.1,127.08 335.1,127.62 332.1,128.07 329.1,128.44 326.1,128.75 323.1,129.01 320.0,129.21 317.0,129.38 314.0,129.52 311.0,129.62 308.0,129.71 Z" fill="#f5584c"/>
<path d="M308.0,145.04 311.0,144.88 314.0,144.67 317.0,144.42 320.0,144.11 323.1,143.72 326.1,143.24 329.1,142.66 332.1,141.95 335.1,141.10 338.1,140.09 341.1,138.92 344.1,137.56 347.2,136.03 350.2,134.34 353.2,132.50 356.2,130.57 359.2,128.58 362.2,126.60 365.2,124.67 368.2,122.83 371.3,121.14 374.3,119.61 377.3,118.26 380.3,117.08 383.3,116.07 386.3,115.23 389.3,114.52 392.3,113.94 395.4,113.46 398.4,113.07 401.4,112.76 404.4,112.50 407.4,112.30 L407.4,114.30 404.4,114.50 401.4,114.76 398.4,115.07 395.4,115.46 392.3,115.93 389.3,116.51 386.3,117.22 383.3,118.06 380.3,119.07 377.3,120.24 374.3,121.59 371.3,123.12 368.2,124.81 365.2,126.64 362.2,128.56 359.2,130.55 356.2,132.53 353.2,134.45 350.2,136.28 347.2,137.97 344.1,139.50 341.1,140.85 338.1,142.03 335.1,143.03 332.1,143.88 329.1,144.58 326.1,145.16 323.1,145.64 320.0,146.03 317.0,146.34 314.0,146.59 311.0,146.80 308.0,146.96 Z" fill="#f5584c"/>
<path d="M308.0,153.35 311.0,153.16 314.0,152.91 317.0,152.61 320.0,152.24 323.1,151.77 326.1,151.20 329.1,150.51 332.1,149.66 335.1,148.65 338.1,147.45 341.1,146.05 344.1,144.43 347.2,142.60 350.2,140.58 353.2,138.40 356.2,136.09 359.2,133.72 362.2,131.36 365.2,129.05 368.2,126.87 371.3,124.84 374.3,123.02 377.3,121.40 380.3,120.00 383.3,118.80 386.3,117.79 389.3,116.95 392.3,116.25 395.4,115.68 398.4,115.22 401.4,114.84 404.4,114.54 407.4,114.30 L407.4,116.30 404.4,116.54 401.4,116.84 398.4,117.22 395.4,117.68 392.3,118.25 389.3,118.94 386.3,119.78 383.3,120.79 380.3,121.99 377.3,123.39 374.3,125.00 371.3,126.82 368.2,128.84 365.2,131.02 362.2,133.32 359.2,135.68 356.2,138.05 353.2,140.35 350.2,142.53 347.2,144.55 344.1,146.37 341.1,147.98 338.1,149.38 335.1,150.58 332.1,151.59 329.1,152.43 326.1,153.13 323.1,153.70 320.0,154.16 317.0,154.53 314.0,154.83 311.0,155.08 308.0,155.27 Z" fill="#f5584c"/>
<path d="M308.0,49.22 311.0,49.56 314.0,50.00 317.0,50.53 320.0,51.20 323.1,52.02 326.1,53.03 329.1,54.27 332.1,55.77 335.1,57.57 338.1,59.70 341.1,62.20 344.1,65.07 347.2,68.31 350.2,71.90 353.2,75.79 356.2,79.88 359.2,84.09 362.2,88.30 365.2,92.39 368.2,96.28 371.3,99.87 374.3,103.11 377.3,105.98 380.3,108.47 383.3,110.60 386.3,112.40 389.3,113.90 392.3,115.13 395.4,116.14 398.4,116.97 401.4,117.63 404.4,118.17 407.4,118.60 L407.4,120.55 404.4,120.12 401.4,119.58 398.4,118.92 395.4,118.09 392.3,117.08 389.3,115.85 386.3,114.35 383.3,112.55 380.3,110.42 377.3,107.92 374.3,105.05 371.3,101.81 368.2,98.22 365.2,94.33 362.2,90.23 359.2,86.03 356.2,81.82 353.2,77.72 350.2,73.83 347.2,70.24 344.1,66.99 341.1,64.12 338.1,61.62 335.1,59.49 332.1,57.69 329.1,56.19 326.1,54.96 323.1,53.94 320.0,53.12 317.0,52.45 314.0,51.92 311.0,51.49 308.0,51.14 Z" fill="#1fc2dc"/>
<path d="M308.0,53.69 311.0,54.02 314.0,54.44 317.0,54.95 320.0,55.60 323.1,56.39 326.1,57.37 329.1,58.56 332.1,60.00 335.1,61.73 338.1,63.79 341.1,66.19 344.1,68.96 347.2,72.09 350.2,75.55 353.2,79.29 356.2,83.24 359.2,87.29 362.2,91.35 365.2,95.29 368.2,99.04 371.3,102.50 374.3,105.62 377.3,108.39 380.3,110.79 383.3,112.84 386.3,114.58 389.3,116.02 392.3,117.21 395.4,118.18 398.4,118.98 401.4,119.62 404.4,120.14 407.4,120.55 L407.4,122.50 404.4,122.08 401.4,121.57 398.4,120.93 395.4,120.13 392.3,119.16 389.3,117.97 386.3,116.52 383.3,114.79 380.3,112.74 377.3,110.33 374.3,107.56 371.3,104.44 368.2,100.98 365.2,97.23 362.2,93.29 359.2,89.23 356.2,85.17 353.2,81.22 350.2,77.48 347.2,74.02 344.1,70.89 341.1,68.12 338.1,65.71 335.1,63.66 332.1,61.92 329.1,60.48 326.1,59.29 323.1,58.31 320.0,57.52 317.0,56.88 314.0,56.36 311.0,55.94 308.0,55.61 Z" fill="#1fc2dc"/>
<path d="M308.0,58.16 311.0,58.48 314.0,58.88 317.0,59.38 320.0,59.99 323.1,60.76 326.1,61.70 329.1,62.84 332.1,64.23 335.1,65.90 338.1,67.88 341.1,70.19 344.1,72.86 347.2,75.86 350.2,79.20 353.2,82.80 356.2,86.59 359.2,90.50 362.2,94.40 365.2,98.20 368.2,101.80 371.3,105.13 374.3,108.13 377.3,110.80 380.3,113.11 383.3,115.08 386.3,116.75 389.3,118.14 392.3,119.28 395.4,120.22 398.4,120.99 401.4,121.60 404.4,122.10 407.4,122.50 L407.4,124.45 404.4,124.05 401.4,123.55 398.4,122.94 395.4,122.17 392.3,121.23 389.3,120.09 386.3,118.70 383.3,117.03 380.3,115.05 377.3,112.74 374.3,110.08 371.3,107.07 368.2,103.74 365.2,100.14 362.2,96.34 359.2,92.43 356.2,88.53 353.2,84.73 350.2,81.13 347.2,77.79 344.1,74.78 341.1,72.12 338.1,69.80 335.1,67.83 332.1,66.16 329.1,64.77 326.1,63.62 323.1,62.68 320.0,61.92 317.0,61.30 314.0,60.80 311.0,60.40 308.0,60.08 Z" fill="#1fc2dc"/>
<path d="M308.0,64.55 311.0,64.85 314.0,65.22 317.0,65.68 320.0,66.26 323.1,66.97 326.1,67.84 329.1,68.91 332.1,70.20 335.1,71.76 338.1,73.60 341.1,75.75 344.1,78.23 347.2,81.03 350.2,84.13 353.2,87.49 356.2,91.02 359.2,94.66 362.2,98.29 365.2,101.82 368.2,105.18 371.3,108.28 374.3,111.08 377.3,113.55 380.3,115.71 383.3,117.55 386.3,119.10 389.3,120.39 392.3,121.46 395.4,122.33 398.4,123.04 401.4,123.62 404.4,124.08 407.4,124.45 L407.4,126.40 404.4,126.03 401.4,125.56 398.4,124.99 395.4,124.28 392.3,123.41 389.3,122.34 386.3,121.04 383.3,119.49 380.3,117.65 377.3,115.50 374.3,113.02 371.3,110.22 368.2,107.12 365.2,103.76 362.2,100.23 359.2,96.59 356.2,92.96 353.2,89.42 350.2,86.06 347.2,82.96 344.1,80.16 341.1,77.68 338.1,75.52 335.1,73.68 332.1,72.13 329.1,70.83 326.1,69.77 323.1,68.89 320.0,68.18 317.0,67.60 314.0,67.14 311.0,66.77 308.0,66.47 Z" fill="#1fc2dc"/>
<path d="M308.0,88.82 311.0,89.01 314.0,89.24 317.0,89.53 320.0,89.89 323.1,90.34 326.1,90.89 329.1,91.56 332.1,92.37 335.1,93.34 338.1,94.50 341.1,95.85 344.1,97.40 347.2,99.16 350.2,101.11 353.2,103.21 356.2,105.43 359.2,107.71 362.2,109.99 365.2,112.20 368.2,114.31 371.3,116.25 374.3,118.01 377.3,119.56 380.3,120.91 383.3,122.07 386.3,123.04 389.3,123.85 392.3,124.52 395.4,125.07 398.4,125.52 401.4,125.88 404.4,126.17 407.4,126.40 L407.4,128.35 404.4,128.12 401.4,127.83 398.4,127.47 395.4,127.02 392.3,126.47 389.3,125.80 386.3,124.99 383.3,124.02 380.3,122.86 377.3,121.51 374.3,119.95 371.3,118.19 368.2,116.25 365.2,114.14 362.2,111.92 359.2,109.64 356.2,107.36 353.2,105.14 350.2,103.04 347.2,101.09 344.1,99.33 341.1,97.77 338.1,96.42 335.1,95.27 332.1,94.29 329.1,93.48 326.1,92.81 323.1,92.26 320.0,91.81 317.0,91.45 314.0,91.16 311.0,90.93 308.0,90.74 Z" fill="#1fc2dc"/>
<path d="M308.0,95.21 311.0,95.37 314.0,95.58 317.0,95.84 320.0,96.16 323.1,96.55 326.1,97.03 329.1,97.62 332.1,98.34 335.1,99.20 338.1,100.22 341.1,101.41 344.1,102.78 347.2,104.33 350.2,106.04 353.2,107.90 356.2,109.86 359.2,111.87 362.2,113.88 365.2,115.83 368.2,117.69 371.3,119.40 374.3,120.95 377.3,122.32 380.3,123.51 383.3,124.53 386.3,125.39 389.3,126.10 392.3,126.69 395.4,127.18 398.4,127.57 401.4,127.89 404.4,128.14 407.4,128.35 L407.4,130.30 404.4,130.09 401.4,129.84 398.4,129.52 395.4,129.13 392.3,128.64 389.3,128.05 386.3,127.34 383.3,126.48 380.3,125.46 377.3,124.27 374.3,122.89 371.3,121.34 368.2,119.63 365.2,117.77 362.2,115.81 359.2,113.80 356.2,111.79 353.2,109.83 350.2,107.97 347.2,106.26 344.1,104.71 341.1,103.33 338.1,102.14 335.1,101.12 332.1,100.26 329.1,99.55 326.1,98.95 323.1,98.47 320.0,98.08 317.0,97.76 314.0,97.50 311.0,97.29 308.0,97.13 Z" fill="#1fc2dc"/>
<path d="M308.0,116.93 311.0,117.00 314.0,117.08 317.0,117.18 320.0,117.31 323.1,117.47 326.1,117.67 329.1,117.90 332.1,118.19 335.1,118.54 338.1,118.95 341.1,119.43 344.1,119.98 347.2,120.61 350.2,121.30 353.2,122.05 356.2,122.84 359.2,123.65 362.2,124.46 365.2,125.25 368.2,126.00 371.3,126.69 374.3,127.31 377.3,127.87 380.3,128.35 383.3,128.76 386.3,129.11 389.3,129.39 392.3,129.63 395.4,129.83 398.4,129.99 401.4,130.11 404.4,130.22 407.4,130.30 L407.4,132.25 404.4,132.17 401.4,132.06 398.4,131.93 395.4,131.78 392.3,131.58 389.3,131.34 386.3,131.05 383.3,130.71 380.3,130.29 377.3,129.81 374.3,129.26 371.3,128.63 368.2,127.94 365.2,127.19 362.2,126.40 359.2,125.58 356.2,124.77 353.2,123.98 350.2,123.23 347.2,122.54 344.1,121.91 341.1,121.36 338.1,120.87 335.1,120.46 332.1,120.12 329.1,119.83 326.1,119.59 323.1,119.39 320.0,119.23 317.0,119.10 314.0,119.00 311.0,118.92 308.0,118.85 Z" fill="#1fc2dc"/>
<path d="M308.0,129.71 311.0,129.72 314.0,129.74 317.0,129.76 320.0,129.78 323.1,129.81 326.1,129.85 329.1,129.89 332.1,129.95 335.1,130.02 338.1,130.09 341.1,130.19 344.1,130.29 347.2,130.41 350.2,130.54 353.2,130.68 356.2,130.83 359.2,130.99 362.2,131.14 365.2,131.29 368.2,131.43 371.3,131.56 374.3,131.68 377.3,131.79 380.3,131.88 383.3,131.96 386.3,132.02 389.3,132.08 392.3,132.12 395.4,132.16 398.4,132.19 401.4,132.21 404.4,132.23 407.4,132.25 L407.4,134.20 404.4,134.18 401.4,134.16 398.4,134.14 395.4,134.11 392.3,134.07 389.3,134.03 386.3,133.97 383.3,133.90 380.3,133.82 377.3,133.73 374.3,133.63 371.3,133.51 368.2,133.37 365.2,133.23 362.2,133.08 359.2,132.92 356.2,132.77 353.2,132.61 350.2,132.47 347.2,132.34 344.1,132.22 341.1,132.11 338.1,132.02 335.1,131.94 332.1,131.87 329.1,131.82 326.1,131.77 323.1,131.73 320.0,131.70 317.0,131.68 314.0,131.66 311.0,131.64 308.0,131.63 Z" fill="#1fc2dc"/>
<path d="M308.0,146.96 311.0,146.90 314.0,146.82 317.0,146.72 320.0,146.60 323.1,146.44 326.1,146.26 329.1,146.03 332.1,145.76 335.1,145.42 338.1,145.03 341.1,144.57 344.1,144.05 347.2,143.45 350.2,142.79 353.2,142.07 356.2,141.32 359.2,140.55 362.2,139.77 365.2,139.02 368.2,138.31 371.3,137.65 374.3,137.05 377.3,136.52 380.3,136.06 383.3,135.67 386.3,135.34 389.3,135.06 392.3,134.84 395.4,134.65 398.4,134.50 401.4,134.38 404.4,134.28 407.4,134.20 L407.4,136.15 404.4,136.23 401.4,136.33 398.4,136.45 395.4,136.60 392.3,136.79 389.3,137.01 386.3,137.29 383.3,137.62 380.3,138.01 377.3,138.47 374.3,138.99 371.3,139.59 368.2,140.25 365.2,140.96 362.2,141.71 359.2,142.48 356.2,143.25 353.2,144.01 350.2,144.72 347.2,145.38 344.1,145.97 341.1,146.50 338.1,146.96 335.1,147.35 332.1,147.68 329.1,147.95 326.1,148.18 323.1,148.37 320.0,148.52 317.0,148.64 314.0,148.74 311.0,148.82 308.0,148.88 Z" fill="#1fc2dc"/>
<path d="M308.0,155.27 311.0,155.17 314.0,155.06 317.0,154.91 320.0,154.72 323.1,154.50 326.1,154.22 329.1,153.88 332.1,153.46 335.1,152.97 338.1,152.38 341.1,151.69 344.1,150.90 347.2,150.01 350.2,149.02 353.2,147.95 356.2,146.82 359.2,145.66 362.2,144.50 365.2,143.37 368.2,142.30 371.3,141.31 374.3,140.42 377.3,139.63 380.3,138.94 383.3,138.35 386.3,137.86 389.3,137.45 392.3,137.11 395.4,136.83 398.4,136.60 401.4,136.42 404.4,136.27 407.4,136.15 L407.4,138.10 404.4,138.22 401.4,138.37 398.4,138.55 395.4,138.78 392.3,139.05 389.3,139.39 386.3,139.81 383.3,140.30 380.3,140.89 377.3,141.57 374.3,142.36 371.3,143.25 368.2,144.24 365.2,145.31 362.2,146.44 359.2,147.60 356.2,148.75 353.2,149.88 350.2,150.95 347.2,151.94 344.1,152.83 341.1,153.62 338.1,154.31 335.1,154.89 332.1,155.39 329.1,155.80 326.1,156.14 323.1,156.42 320.0,156.65 317.0,156.83 314.0,156.98 311.0,157.10 308.0,157.19 Z" fill="#1fc2dc"/>
<path d="M308.0,60.08 311.0,60.48 314.0,60.98 317.0,61.61 320.0,62.38 323.1,63.34 326.1,64.51 329.1,65.95 332.1,67.69 335.1,69.78 338.1,72.26 341.1,75.16 344.1,78.49 347.2,82.26 350.2,86.44 353.2,90.95 356.2,95.71 359.2,100.60 362.2,105.49 365.2,110.25 368.2,114.76 371.3,118.93 374.3,122.70 377.3,126.03 380.3,128.93 383.3,131.41 386.3,133.50 389.3,135.24 392.3,136.67 395.4,137.85 398.4,138.80 401.4,139.58 404.4,140.20 407.4,140.70 L407.4,142.70 404.4,142.20 401.4,141.58 398.4,140.80 395.4,139.84 392.3,138.67 389.3,137.23 386.3,135.49 383.3,133.40 380.3,130.92 377.3,128.02 374.3,124.68 371.3,120.91 368.2,116.73 365.2,112.22 362.2,107.45 359.2,102.56 356.2,97.67 353.2,92.90 350.2,88.38 347.2,84.21 344.1,80.43 341.1,77.09 338.1,74.19 335.1,71.71 332.1,69.62 329.1,67.88 326.1,66.44 323.1,65.26 320.0,64.30 317.0,63.53 314.0,62.90 311.0,62.40 308.0,62.00 Z" fill="#17a587"/>
<path d="M308.0,66.47 311.0,66.85 314.0,67.32 317.0,67.91 320.0,68.64 323.1,69.55 326.1,70.66 329.1,72.02 332.1,73.67 335.1,75.64 338.1,77.99 341.1,80.73 344.1,83.88 347.2,87.45 350.2,91.39 353.2,95.66 356.2,100.16 359.2,104.78 362.2,109.41 365.2,113.91 368.2,118.17 371.3,122.12 374.3,125.68 377.3,128.83 380.3,131.57 383.3,133.91 386.3,135.89 389.3,137.53 392.3,138.89 395.4,140.00 398.4,140.91 401.4,141.64 404.4,142.23 407.4,142.70 L407.4,144.70 404.4,144.23 401.4,143.64 398.4,142.90 395.4,142.00 392.3,140.89 389.3,139.53 386.3,137.88 383.3,135.90 380.3,133.56 377.3,130.82 374.3,127.66 371.3,124.09 368.2,120.15 365.2,115.88 362.2,111.37 359.2,106.74 356.2,102.12 353.2,97.61 350.2,93.34 347.2,89.39 344.1,85.82 341.1,82.66 338.1,79.92 335.1,77.57 332.1,75.59 329.1,73.95 326.1,72.59 323.1,71.47 320.0,70.57 317.0,69.83 314.0,69.24 311.0,68.77 308.0,68.39 Z" fill="#17a587"/>
<path d="M308.0,70.94 311.0,71.31 314.0,71.76 317.0,72.34 320.0,73.04 323.1,73.92 326.1,75.00 329.1,76.31 332.1,77.90 335.1,79.81 338.1,82.08 341.1,84.73 344.1,87.79 347.2,91.24 350.2,95.06 353.2,99.18 356.2,103.54 359.2,108.01 362.2,112.48 365.2,116.84 368.2,120.97 371.3,124.78 374.3,128.23 377.3,131.28 380.3,133.93 383.3,136.20 386.3,138.11 389.3,139.70 392.3,141.01 395.4,142.09 398.4,142.96 401.4,143.67 404.4,144.24 407.4,144.70 L407.4,146.70 404.4,146.24 401.4,145.67 398.4,144.96 395.4,144.09 392.3,143.01 389.3,141.70 386.3,140.10 383.3,138.19 380.3,135.92 377.3,133.27 374.3,130.21 371.3,126.76 368.2,122.94 365.2,118.81 362.2,114.45 359.2,109.97 356.2,105.49 353.2,101.13 350.2,97.00 347.2,93.18 344.1,89.73 341.1,86.67 338.1,84.01 335.1,81.74 332.1,79.83 329.1,78.24 326.1,76.92 323.1,75.84 320.0,74.97 317.0,74.26 314.0,73.69 311.0,73.23 308.0,72.86 Z" fill="#17a587"/>
<path d="M308.0,75.41 311.0,75.76 314.0,76.21 317.0,76.76 320.0,77.44 323.1,78.29 326.1,79.33 329.1,80.60 332.1,82.14 335.1,83.99 338.1,86.18 341.1,88.74 344.1,91.69 347.2,95.03 350.2,98.72 353.2,102.71 356.2,106.92 359.2,111.24 362.2,115.56 365.2,119.77 368.2,123.76 371.3,127.45 374.3,130.78 377.3,133.73 380.3,136.29 383.3,138.48 386.3,140.33 389.3,141.87 392.3,143.14 395.4,144.18 398.4,145.02 401.4,145.71 404.4,146.26 407.4,146.70 L407.4,148.70 404.4,148.26 401.4,147.71 398.4,147.02 395.4,146.17 392.3,145.13 389.3,143.86 386.3,142.32 383.3,140.47 380.3,138.28 377.3,135.72 374.3,132.76 371.3,129.43 368.2,125.74 365.2,121.74 362.2,117.53 359.2,113.20 356.2,108.87 353.2,104.66 350.2,100.66 347.2,96.97 344.1,93.63 341.1,90.68 338.1,88.11 335.1,85.92 332.1,84.07 329.1,82.53 326.1,81.25 323.1,80.21 320.0,79.37 317.0,78.68 314.0,78.13 311.0,77.68 308.0,77.33 Z" fill="#17a587"/>
<path d="M308.0,170.60 311.0,170.49 314.0,170.36 317.0,170.19 320.0,169.98 323.1,169.72 326.1,169.40 329.1,169.01 332.1,168.53 335.1,167.96 338.1,167.29 341.1,166.50 344.1,165.60 347.2,164.57 350.2,163.44 353.2,162.21 356.2,160.92 359.2,159.59 362.2,158.26 365.2,156.97 368.2,155.75 371.3,154.61 374.3,153.59 377.3,152.68 380.3,151.90 383.3,151.22 386.3,150.66 389.3,150.18 392.3,149.79 395.4,149.48 398.4,149.22 401.4,149.01 404.4,148.84 407.4,148.70 L407.4,150.70 404.4,150.84 401.4,151.00 398.4,151.21 395.4,151.47 392.3,151.79 389.3,152.18 386.3,152.65 383.3,153.21 380.3,153.89 377.3,154.67 374.3,155.57 371.3,156.59 368.2,157.72 365.2,158.94 362.2,160.23 359.2,161.55 356.2,162.88 353.2,164.16 350.2,165.39 347.2,166.52 344.1,167.54 341.1,168.44 338.1,169.22 335.1,169.89 332.1,170.46 329.1,170.93 326.1,171.32 323.1,171.64 320.0,171.90 317.0,172.11 314.0,172.28 311.0,172.41 308.0,172.52 Z" fill="#17a587"/>
<path d="M308.0,176.99 311.0,176.86 314.0,176.70 317.0,176.49 320.0,176.24 323.1,175.93 326.1,175.54 329.1,175.08 332.1,174.51 335.1,173.83 338.1,173.02 341.1,172.07 344.1,170.99 347.2,169.76 350.2,168.39 353.2,166.92 356.2,165.37 359.2,163.78 362.2,162.18 365.2,160.63 368.2,159.16 371.3,157.80 374.3,156.57 377.3,155.48 380.3,154.54 383.3,153.73 386.3,153.05 389.3,152.48 392.3,152.01 395.4,151.63 398.4,151.32 401.4,151.07 404.4,150.86 407.4,150.70 L407.4,152.70 404.4,152.86 401.4,153.07 398.4,153.32 395.4,153.63 392.3,154.01 389.3,154.48 386.3,155.04 383.3,155.72 380.3,156.53 377.3,157.47 374.3,158.55 371.3,159.78 368.2,161.13 365.2,162.60 362.2,164.15 359.2,165.74 356.2,167.33 353.2,168.87 350.2,170.34 347.2,171.70 344.1,172.92 341.1,174.01 338.1,174.95 335.1,175.76 332.1,176.44 329.1,177.00 326.1,177.47 323.1,177.85 320.0,178.16 317.0,178.41 314.0,178.62 311.0,178.78 308.0,178.91 Z" fill="#17a587"/>
<path d="M308.0,191.69 311.0,191.50 314.0,191.25 317.0,190.95 320.0,190.58 323.1,190.12 326.1,189.55 329.1,188.85 332.1,188.01 335.1,187.00 338.1,185.80 341.1,184.40 344.1,182.78 347.2,180.96 350.2,178.94 353.2,176.76 356.2,174.46 359.2,172.09 362.2,169.73 365.2,167.43 368.2,165.25 371.3,163.23 374.3,161.41 377.3,159.79 380.3,158.39 383.3,157.19 386.3,156.18 389.3,155.34 392.3,154.65 395.4,154.08 398.4,153.62 401.4,153.24 404.4,152.94 407.4,152.70 L407.4,154.70 404.4,154.94 401.4,155.24 398.4,155.62 395.4,156.08 392.3,156.64 389.3,157.34 386.3,158.18 383.3,159.18 380.3,160.38 377.3,161.78 374.3,163.39 371.3,165.21 368.2,167.22 365.2,169.40 362.2,171.69 359.2,174.05 356.2,176.41 353.2,178.71 350.2,180.89 347.2,182.90 344.1,184.72 341.1,186.33 338.1,187.73 335.1,188.93 332.1,189.94 329.1,190.78 326.1,191.47 323.1,192.04 320.0,192.50 317.0,192.87 314.0,193.17 311.0,193.42 308.0,193.61 Z" fill="#17a587"/>
<path d="M308.0,200.00 311.0,199.77 314.0,199.49 317.0,199.14 320.0,198.71 323.1,198.17 326.1,197.51 329.1,196.70 332.1,195.72 335.1,194.55 338.1,193.16 341.1,191.53 344.1,189.65 347.2,187.53 350.2,185.19 353.2,182.65 356.2,179.98 359.2,177.23 362.2,174.49 365.2,171.81 368.2,169.28 371.3,166.93 374.3,164.81 377.3,162.94 380.3,161.31 383.3,159.92 386.3,158.75 389.3,157.77 392.3,156.96 395.4,156.30 398.4,155.77 401.4,155.33 404.4,154.98 407.4,154.70 L407.4,156.70 404.4,156.98 401.4,157.33 398.4,157.76 395.4,158.30 392.3,158.96 389.3,159.77 386.3,160.74 383.3,161.91 380.3,163.30 377.3,164.93 374.3,166.80 371.3,168.91 368.2,171.25 365.2,173.78 362.2,176.45 359.2,179.19 356.2,181.94 353.2,184.60 350.2,187.14 347.2,189.48 344.1,191.59 341.1,193.46 338.1,195.09 335.1,196.48 332.1,197.65 329.1,198.63 326.1,199.43 323.1,200.09 320.0,200.63 317.0,201.06 314.0,201.41 311.0,201.70 308.0,201.92 Z" fill="#17a587"/>
<path d="M308.0,210.23 311.0,209.96 314.0,209.63 317.0,209.22 320.0,208.70 323.1,208.07 326.1,207.29 329.1,206.33 332.1,205.18 335.1,203.79 338.1,202.14 341.1,200.22 344.1,198.00 347.2,195.50 350.2,192.73 353.2,189.73 356.2,186.57 359.2,183.33 362.2,180.08 365.2,176.92 368.2,173.92 371.3,171.15 374.3,168.65 377.3,166.44 380.3,164.51 383.3,162.87 386.3,161.48 389.3,160.33 392.3,159.37 395.4,158.59 398.4,157.96 401.4,157.45 404.4,157.03 407.4,156.70 L407.4,158.70 404.4,159.03 401.4,159.44 398.4,159.96 395.4,160.59 392.3,161.37 389.3,162.32 386.3,163.48 383.3,164.86 380.3,166.50 377.3,168.42 374.3,170.63 371.3,173.13 368.2,175.90 365.2,178.89 362.2,182.04 359.2,185.29 356.2,188.53 353.2,191.68 350.2,194.68 347.2,197.44 344.1,199.94 341.1,202.15 338.1,204.08 335.1,205.72 332.1,207.10 329.1,208.26 326.1,209.21 323.1,209.99 320.0,210.63 317.0,211.14 314.0,211.55 311.0,211.88 308.0,212.15 Z" fill="#17a587"/>
<path d="M308.0,79.88 311.0,80.29 314.0,80.80 317.0,81.43 320.0,82.22 323.1,83.19 326.1,84.38 329.1,85.84 332.1,87.61 335.1,89.74 338.1,92.25 341.1,95.20 344.1,98.59 347.2,102.42 350.2,106.66 353.2,111.25 356.2,116.08 359.2,121.05 362.2,126.02 365.2,130.86 368.2,135.44 371.3,139.68 374.3,143.51 377.3,146.90 380.3,149.84 383.3,152.36 386.3,154.48 389.3,156.25 392.3,157.71 395.4,158.90 398.4,159.87 401.4,160.66 404.4,161.29 407.4,161.80 L407.4,163.66 404.4,163.15 401.4,162.52 398.4,161.73 395.4,160.76 392.3,159.57 389.3,158.11 386.3,156.34 383.3,154.22 380.3,151.71 377.3,148.77 374.3,145.38 371.3,141.55 368.2,137.32 365.2,132.74 362.2,127.91 359.2,122.94 356.2,117.98 353.2,113.14 350.2,108.56 347.2,104.33 344.1,100.50 341.1,97.11 338.1,94.17 335.1,91.65 332.1,89.53 329.1,87.76 326.1,86.30 323.1,85.11 320.0,84.13 317.0,83.35 314.0,82.72 311.0,82.21 308.0,81.80 Z" fill="#3b5c9a"/>
<path d="M308.0,84.35 311.0,84.74 314.0,85.24 317.0,85.85 320.0,86.61 323.1,87.55 326.1,88.71 329.1,90.12 332.1,91.84 335.1,93.89 338.1,96.33 341.1,99.18 344.1,102.46 347.2,106.17 350.2,110.28 353.2,114.72 356.2,119.40 359.2,124.21 362.2,129.02 365.2,133.70 368.2,138.14 371.3,142.24 374.3,145.95 377.3,149.23 380.3,152.08 383.3,154.52 386.3,156.57 389.3,158.28 392.3,159.69 395.4,160.85 398.4,161.79 401.4,162.55 404.4,163.17 407.4,163.66 L407.4,165.51 404.4,165.02 401.4,164.41 398.4,163.65 395.4,162.71 392.3,161.55 389.3,160.14 386.3,158.43 383.3,156.38 380.3,153.95 377.3,151.10 374.3,147.82 371.3,144.12 368.2,140.02 365.2,135.58 362.2,130.90 359.2,126.10 356.2,121.29 353.2,116.61 350.2,112.18 347.2,108.08 344.1,104.37 341.1,101.09 338.1,98.24 335.1,95.80 332.1,93.75 329.1,92.04 326.1,90.63 323.1,89.47 320.0,88.53 317.0,87.77 314.0,87.16 311.0,86.66 308.0,86.27 Z" fill="#3b5c9a"/>
<path d="M308.0,90.74 311.0,91.11 314.0,91.58 317.0,92.15 320.0,92.87 323.1,93.76 326.1,94.85 329.1,96.18 332.1,97.80 335.1,99.74 338.1,102.04 341.1,104.72 344.1,107.82 347.2,111.32 350.2,115.19 353.2,119.37 356.2,123.79 359.2,128.32 362.2,132.86 365.2,137.27 368.2,141.45 371.3,145.32 374.3,148.82 377.3,151.91 380.3,154.60 383.3,156.90 386.3,158.83 389.3,160.45 392.3,161.78 395.4,162.87 398.4,163.75 401.4,164.47 404.4,165.05 407.4,165.51 L407.4,167.37 404.4,166.91 401.4,166.33 398.4,165.61 395.4,164.73 392.3,163.64 389.3,162.31 386.3,160.70 383.3,158.76 380.3,156.47 377.3,153.78 374.3,150.69 371.3,147.20 368.2,143.33 365.2,139.15 362.2,134.74 359.2,130.21 356.2,125.68 353.2,121.27 350.2,117.09 347.2,113.22 344.1,109.72 341.1,106.63 338.1,103.95 335.1,101.65 332.1,99.71 329.1,98.10 326.1,96.77 323.1,95.68 320.0,94.79 317.0,94.07 314.0,93.50 311.0,93.03 308.0,92.66 Z" fill="#3b5c9a"/>
<path d="M308.0,97.13 311.0,97.48 314.0,97.92 317.0,98.46 320.0,99.13 323.1,99.97 326.1,100.99 329.1,102.24 332.1,103.76 335.1,105.58 338.1,107.74 341.1,110.27 344.1,113.17 347.2,116.46 350.2,120.09 353.2,124.03 356.2,128.17 359.2,132.43 362.2,136.69 365.2,140.84 368.2,144.77 371.3,148.40 374.3,151.69 377.3,154.59 380.3,157.12 383.3,159.28 386.3,161.09 389.3,162.61 392.3,163.86 395.4,164.89 398.4,165.72 401.4,166.39 404.4,166.94 407.4,167.37 L407.4,169.23 404.4,168.79 401.4,168.25 398.4,167.58 395.4,166.75 392.3,165.72 389.3,164.47 386.3,162.96 383.3,161.14 380.3,158.98 377.3,156.46 374.3,153.56 371.3,150.28 368.2,146.65 365.2,142.72 362.2,138.58 359.2,134.32 356.2,130.07 353.2,125.92 350.2,121.99 347.2,118.36 344.1,115.08 341.1,112.17 338.1,109.65 335.1,107.49 332.1,105.68 329.1,104.16 326.1,102.91 323.1,101.88 320.0,101.05 317.0,100.38 314.0,99.83 311.0,99.40 308.0,99.05 Z" fill="#3b5c9a"/>
<path d="M308.0,101.60 311.0,101.94 314.0,102.36 317.0,102.88 320.0,103.53 323.1,104.33 326.1,105.32 329.1,106.52 332.1,107.98 335.1,109.74 338.1,111.82 341.1,114.25 344.1,117.05 347.2,120.21 350.2,123.71 353.2,127.50 356.2,131.49 359.2,135.59 362.2,139.69 365.2,143.68 368.2,147.47 371.3,150.97 374.3,154.13 377.3,156.93 380.3,159.36 383.3,161.43 386.3,163.19 389.3,164.64 392.3,165.85 395.4,166.84 398.4,167.64 401.4,168.29 404.4,168.81 407.4,169.23 L407.4,171.09 404.4,170.67 401.4,170.14 398.4,169.50 395.4,168.69 392.3,167.71 389.3,166.51 386.3,165.05 383.3,163.30 380.3,161.22 377.3,158.79 374.3,156.00 371.3,152.84 368.2,149.34 365.2,145.56 362.2,141.58 359.2,137.48 356.2,133.38 353.2,129.39 350.2,125.61 347.2,122.11 344.1,118.95 341.1,116.16 338.1,113.73 335.1,111.65 332.1,109.90 329.1,108.44 326.1,107.24 323.1,106.25 320.0,105.45 317.0,104.80 314.0,104.28 311.0,103.86 308.0,103.52 Z" fill="#3b5c9a"/>
<path d="M308.0,106.07 311.0,106.39 314.0,106.80 317.0,107.30 320.0,107.92 323.1,108.70 326.1,109.64 329.1,110.80 332.1,112.21 335.1,113.89 338.1,115.89 341.1,118.23 344.1,120.92 347.2,123.96 350.2,127.33 353.2,130.97 356.2,134.80 359.2,138.75 362.2,142.69 365.2,146.53 368.2,150.17 371.3,153.53 374.3,156.57 377.3,159.26 380.3,161.60 383.3,163.59 386.3,165.28 389.3,166.68 392.3,167.84 395.4,168.78 398.4,169.56 401.4,170.18 404.4,170.68 407.4,171.09 L407.4,172.94 404.4,172.54 401.4,172.04 398.4,171.41 395.4,170.64 392.3,169.70 389.3,168.54 386.3,167.14 383.3,165.46 380.3,163.46 377.3,161.13 374.3,158.44 371.3,155.40 368.2,152.04 365.2,148.41 362.2,144.57 359.2,140.64 356.2,136.70 353.2,132.86 350.2,129.23 347.2,125.86 344.1,122.83 341.1,120.14 338.1,117.80 335.1,115.81 332.1,114.12 329.1,112.72 326.1,111.56 323.1,110.61 320.0,109.84 317.0,109.22 314.0,108.72 311.0,108.31 308.0,107.99 Z" fill="#3b5c9a"/>
<path d="M308.0,110.54 311.0,110.85 314.0,111.24 317.0,111.72 320.0,112.32 323.1,113.06 326.1,113.97 329.1,115.08 332.1,116.43 335.1,118.05 338.1,119.97 341.1,122.21 344.1,124.79 347.2,127.71 350.2,130.94 353.2,134.43 356.2,138.12 359.2,141.90 362.2,145.69 365.2,149.37 368.2,152.86 371.3,156.09 374.3,159.01 377.3,161.59 380.3,163.83 383.3,165.75 386.3,167.37 389.3,168.71 392.3,169.82 395.4,170.73 398.4,171.47 401.4,172.07 404.4,172.56 407.4,172.94 L407.4,174.80 404.4,174.41 401.4,173.93 398.4,173.33 395.4,172.59 392.3,171.68 389.3,170.57 386.3,169.23 383.3,167.61 380.3,165.70 377.3,163.46 374.3,160.88 371.3,157.97 368.2,154.74 365.2,151.25 362.2,147.57 359.2,143.79 356.2,140.01 353.2,136.33 350.2,132.84 347.2,129.61 344.1,126.70 341.1,124.12 338.1,121.88 335.1,119.96 332.1,118.35 329.1,117.00 326.1,115.89 323.1,114.98 320.0,114.24 317.0,113.64 314.0,113.16 311.0,112.77 308.0,112.46 Z" fill="#3b5c9a"/>
<path d="M308.0,118.85 311.0,119.14 314.0,119.51 317.0,119.97 320.0,120.54 323.1,121.24 326.1,122.10 329.1,123.16 332.1,124.43 335.1,125.97 338.1,127.79 341.1,129.91 344.1,132.36 347.2,135.13 350.2,138.19 353.2,141.50 356.2,144.99 359.2,148.58 362.2,152.17 365.2,155.66 368.2,158.97 371.3,162.03 374.3,164.79 377.3,167.24 380.3,169.37 383.3,171.18 386.3,172.71 389.3,173.99 392.3,175.04 395.4,175.91 398.4,176.61 401.4,177.18 404.4,177.63 407.4,178.00 L407.4,179.91 404.4,179.55 401.4,179.09 398.4,178.52 395.4,177.82 392.3,176.96 389.3,175.91 386.3,174.63 383.3,173.10 380.3,171.28 377.3,169.16 374.3,166.71 371.3,163.94 368.2,160.88 365.2,157.57 362.2,154.08 359.2,150.50 356.2,146.91 353.2,143.42 350.2,140.11 347.2,137.05 344.1,134.28 341.1,131.83 338.1,129.70 335.1,127.89 332.1,126.35 329.1,125.08 326.1,124.02 323.1,123.16 320.0,122.46 317.0,121.89 314.0,121.43 311.0,121.06 308.0,120.77 Z" fill="#f9a183"/>
<path d="M308.0,123.32 311.0,123.60 314.0,123.95 317.0,124.39 320.0,124.93 323.1,125.61 326.1,126.43 329.1,127.44 332.1,128.66 335.1,130.13 338.1,131.87 341.1,133.90 344.1,136.25 347.2,138.89 350.2,141.82 353.2,144.99 356.2,148.33 359.2,151.76 362.2,155.20 365.2,158.54 368.2,161.70 371.3,164.63 374.3,167.28 377.3,169.62 380.3,171.65 383.3,173.39 386.3,174.86 389.3,176.08 392.3,177.09 395.4,177.91 398.4,178.58 401.4,179.13 404.4,179.56 407.4,179.91 L407.4,181.83 404.4,181.48 401.4,181.04 398.4,180.50 395.4,179.83 392.3,179.00 389.3,177.99 386.3,176.77 383.3,175.31 380.3,173.57 377.3,171.53 374.3,169.19 371.3,166.55 368.2,163.62 365.2,160.45 362.2,157.11 359.2,153.68 356.2,150.25 353.2,146.91 350.2,143.74 347.2,140.81 344.1,138.17 341.1,135.82 338.1,133.79 335.1,132.05 332.1,130.58 329.1,129.36 326.1,128.35 323.1,127.53 320.0,126.85 317.0,126.31 314.0,125.87 311.0,125.52 308.0,125.24 Z" fill="#f9a183"/>
<path d="M308.0,131.63 311.0,131.88 314.0,132.19 317.0,132.58 320.0,133.06 323.1,133.66 326.1,134.39 329.1,135.28 332.1,136.37 335.1,137.67 338.1,139.21 341.1,141.02 344.1,143.10 347.2,145.44 350.2,148.04 353.2,150.85 356.2,153.82 359.2,156.86 362.2,159.90 365.2,162.87 368.2,165.68 371.3,168.27 374.3,170.62 377.3,172.70 380.3,174.50 383.3,176.04 386.3,177.34 389.3,178.43 392.3,179.32 395.4,180.05 398.4,180.65 401.4,181.13 404.4,181.52 407.4,181.83 L407.4,183.74 404.4,183.43 401.4,183.04 398.4,182.56 395.4,181.97 392.3,181.23 389.3,180.34 386.3,179.26 383.3,177.96 380.3,176.42 377.3,174.61 374.3,172.54 371.3,170.19 368.2,167.59 365.2,164.78 362.2,161.82 359.2,158.78 356.2,155.73 353.2,152.77 350.2,149.96 347.2,147.36 344.1,145.01 341.1,142.94 338.1,141.13 335.1,139.59 332.1,138.29 329.1,137.20 326.1,136.31 323.1,135.58 320.0,134.98 317.0,134.50 314.0,134.11 311.0,133.80 308.0,133.55 Z" fill="#f9a183"/>
<path d="M308.0,136.10 311.0,136.34 314.0,136.63 317.0,137.00 320.0,137.46 323.1,138.02 326.1,138.72 329.1,139.57 332.1,140.60 335.1,141.83 338.1,143.30 341.1,145.01 344.1,146.98 347.2,149.21 350.2,151.68 353.2,154.34 356.2,157.16 359.2,160.05 362.2,162.93 365.2,165.75 368.2,168.41 371.3,170.88 374.3,173.11 377.3,175.08 380.3,176.79 383.3,178.25 386.3,179.49 389.3,180.51 392.3,181.36 395.4,182.06 398.4,182.62 401.4,183.08 404.4,183.45 407.4,183.74 L407.4,185.66 404.4,185.36 401.4,184.99 398.4,184.54 395.4,183.97 392.3,183.28 389.3,182.43 386.3,181.40 383.3,180.17 380.3,178.70 377.3,176.99 374.3,175.02 371.3,172.79 368.2,170.33 365.2,167.66 362.2,164.85 359.2,161.96 356.2,159.07 353.2,156.26 350.2,153.59 347.2,151.13 344.1,148.90 341.1,146.93 338.1,145.22 335.1,143.75 332.1,142.52 329.1,141.49 326.1,140.64 323.1,139.94 320.0,139.38 317.0,138.92 314.0,138.55 311.0,138.26 308.0,138.02 Z" fill="#f9a183"/>
<path d="M308.0,140.57 311.0,140.79 314.0,141.07 317.0,141.42 320.0,141.86 323.1,142.39 326.1,143.05 329.1,143.85 332.1,144.83 335.1,145.99 338.1,147.38 341.1,149.00 344.1,150.87 347.2,152.98 350.2,155.31 353.2,157.83 356.2,160.50 359.2,163.23 362.2,165.96 365.2,168.63 368.2,171.15 371.3,173.48 374.3,175.59 377.3,177.46 380.3,179.08 383.3,180.46 386.3,181.63 389.3,182.60 392.3,183.40 395.4,184.06 398.4,184.60 401.4,185.03 404.4,185.38 407.4,185.66 L407.4,187.57 404.4,187.29 401.4,186.94 398.4,186.51 395.4,185.98 392.3,185.32 389.3,184.52 386.3,183.54 383.3,182.38 380.3,180.99 377.3,179.37 374.3,177.51 371.3,175.40 368.2,173.07 365.2,170.54 362.2,167.88 359.2,165.15 356.2,162.41 353.2,159.75 350.2,157.23 347.2,154.90 344.1,152.79 341.1,150.92 338.1,149.30 335.1,147.91 332.1,146.75 329.1,145.77 326.1,144.97 323.1,144.31 320.0,143.78 317.0,143.34 314.0,142.99 311.0,142.71 308.0,142.49 Z" fill="#f9a183"/>
<path d="M308.0,148.88 311.0,149.07 314.0,149.31 317.0,149.61 320.0,149.98 323.1,150.44 326.1,151.01 329.1,151.70 332.1,152.53 335.1,153.54 338.1,154.72 341.1,156.12 344.1,157.72 347.2,159.53 350.2,161.53 353.2,163.70 356.2,165.98 359.2,168.33 362.2,170.67 365.2,172.96 368.2,175.12 371.3,177.12 374.3,178.93 377.3,180.53 380.3,181.92 383.3,183.11 386.3,184.11 389.3,184.95 392.3,185.64 395.4,186.20 398.4,186.66 401.4,187.03 404.4,187.33 407.4,187.57 L407.4,189.49 404.4,189.25 401.4,188.95 398.4,188.58 395.4,188.12 392.3,187.55 389.3,186.86 386.3,186.03 383.3,185.03 380.3,183.84 377.3,182.45 374.3,180.85 371.3,179.04 368.2,177.04 365.2,174.87 362.2,172.59 359.2,170.24 356.2,167.90 353.2,165.61 350.2,163.45 347.2,161.45 344.1,159.64 341.1,158.03 338.1,156.64 335.1,155.45 332.1,154.45 329.1,153.62 326.1,152.93 323.1,152.36 320.0,151.90 317.0,151.53 314.0,151.23 311.0,150.99 308.0,150.80 Z" fill="#f9a183"/>
<path d="M308.0,157.19 311.0,157.35 314.0,157.55 317.0,157.80 320.0,158.11 323.1,158.49 326.1,158.97 329.1,159.54 332.1,160.24 335.1,161.08 338.1,162.07 341.1,163.23 344.1,164.57 347.2,166.08 350.2,167.75 353.2,169.56 356.2,171.46 359.2,173.42 362.2,175.38 365.2,177.29 368.2,179.09 371.3,180.76 374.3,182.27 377.3,183.61 380.3,184.77 383.3,185.76 386.3,186.60 389.3,187.30 392.3,187.87 395.4,188.34 398.4,188.73 401.4,189.04 404.4,189.29 407.4,189.49 L407.4,191.40 404.4,191.20 401.4,190.95 398.4,190.64 395.4,190.26 392.3,189.79 389.3,189.21 386.3,188.51 383.3,187.68 380.3,186.69 377.3,185.53 374.3,184.19 371.3,182.68 368.2,181.01 365.2,179.20 362.2,177.30 359.2,175.34 356.2,173.38 353.2,171.47 350.2,169.67 347.2,168.00 344.1,166.49 341.1,165.15 338.1,163.99 335.1,163.00 332.1,162.16 329.1,161.46 326.1,160.89 323.1,160.41 320.0,160.03 317.0,159.72 314.0,159.47 311.0,159.27 308.0,159.11 Z" fill="#f9a183"/>
<path d="M308.0,161.66 311.0,161.82 314.0,162.02 317.0,162.27 320.0,162.58 323.1,162.96 326.1,163.43 329.1,164.01 332.1,164.70 335.1,165.54 338.1,166.53 341.1,167.69 344.1,169.02 347.2,170.53 350.2,172.20 353.2,174.01 356.2,175.91 359.2,177.86 362.2,179.82 365.2,181.72 368.2,183.53 371.3,185.19 374.3,186.70 377.3,188.04 380.3,189.19 383.3,190.18 386.3,191.02 389.3,191.71 392.3,192.29 395.4,192.76 398.4,193.14 401.4,193.45 404.4,193.70 407.4,193.90 L407.4,195.87 404.4,195.67 401.4,195.42 398.4,195.11 395.4,194.72 392.3,194.25 389.3,193.68 386.3,192.98 383.3,192.15 380.3,191.15 377.3,189.99 374.3,188.66 371.3,187.15 368.2,185.48 365.2,183.67 362.2,181.77 359.2,179.81 356.2,177.85 353.2,175.94 350.2,174.14 347.2,172.46 344.1,170.95 341.1,169.62 338.1,168.46 335.1,167.46 332.1,166.63 329.1,165.93 326.1,165.36 323.1,164.88 320.0,164.50 317.0,164.19 314.0,163.94 311.0,163.74 308.0,163.58 Z" fill="#8a9bc9"/>
<path d="M308.0,166.13 311.0,166.28 314.0,166.46 317.0,166.69 320.0,166.98 323.1,167.33 326.1,167.77 329.1,168.30 332.1,168.94 335.1,169.71 338.1,170.62 341.1,171.69 344.1,172.92 347.2,174.31 350.2,175.85 353.2,177.52 356.2,179.27 359.2,181.08 362.2,182.88 365.2,184.63 368.2,186.30 371.3,187.84 374.3,189.23 377.3,190.46 380.3,191.53 383.3,192.44 386.3,193.21 389.3,193.85 392.3,194.38 395.4,194.81 398.4,195.17 401.4,195.45 404.4,195.68 407.4,195.87 L407.4,197.83 404.4,197.65 401.4,197.42 398.4,197.13 395.4,196.78 392.3,196.35 389.3,195.81 386.3,195.17 383.3,194.40 380.3,193.49 377.3,192.42 374.3,191.18 371.3,189.79 368.2,188.25 365.2,186.58 362.2,184.83 359.2,183.02 356.2,181.21 353.2,179.45 350.2,177.79 347.2,176.25 344.1,174.85 341.1,173.62 338.1,172.55 335.1,171.63 332.1,170.86 329.1,170.22 326.1,169.69 323.1,169.25 320.0,168.90 317.0,168.61 314.0,168.38 311.0,168.20 308.0,168.05 Z" fill="#8a9bc9"/>
<path d="M308.0,172.52 311.0,172.65 314.0,172.80 317.0,173.00 320.0,173.24 323.1,173.54 326.1,173.91 329.1,174.36 332.1,174.91 335.1,175.57 338.1,176.34 341.1,177.25 344.1,178.30 347.2,179.49 350.2,180.80 353.2,182.21 356.2,183.71 359.2,185.24 362.2,186.78 365.2,188.27 368.2,189.69 371.3,191.00 374.3,192.18 377.3,193.23 380.3,194.14 383.3,194.92 386.3,195.57 389.3,196.12 392.3,196.57 395.4,196.94 398.4,197.24 401.4,197.48 404.4,197.68 407.4,197.83 L407.4,199.80 404.4,199.64 401.4,199.45 398.4,199.20 395.4,198.90 392.3,198.53 389.3,198.08 386.3,197.53 383.3,196.88 380.3,196.10 377.3,195.19 374.3,194.14 371.3,192.95 368.2,191.64 365.2,190.22 362.2,188.72 359.2,187.19 356.2,185.65 353.2,184.15 350.2,182.73 347.2,181.42 344.1,180.23 341.1,179.18 338.1,178.27 335.1,177.49 332.1,176.83 329.1,176.29 326.1,175.83 323.1,175.46 320.0,175.16 317.0,174.92 314.0,174.72 311.0,174.57 308.0,174.44 Z" fill="#8a9bc9"/>
<path d="M308.0,178.91 311.0,179.01 314.0,179.14 317.0,179.31 320.0,179.51 323.1,179.75 326.1,180.06 329.1,180.43 332.1,180.88 335.1,181.42 338.1,182.07 341.1,182.82 344.1,183.68 347.2,184.66 350.2,185.74 353.2,186.91 356.2,188.14 359.2,189.41 362.2,190.68 365.2,191.91 368.2,193.08 371.3,194.16 374.3,195.14 377.3,196.00 380.3,196.75 383.3,197.39 386.3,197.93 389.3,198.38 392.3,198.76 395.4,199.06 398.4,199.31 401.4,199.51 404.4,199.67 407.4,199.80 L407.4,201.77 404.4,201.64 401.4,201.47 398.4,201.27 395.4,201.03 392.3,200.72 389.3,200.35 386.3,199.90 383.3,199.35 380.3,198.71 377.3,197.96 374.3,197.09 371.3,196.11 368.2,195.03 365.2,193.86 362.2,192.62 359.2,191.35 356.2,190.08 353.2,188.85 350.2,187.68 347.2,186.59 344.1,185.61 341.1,184.75 338.1,183.99 335.1,183.35 332.1,182.81 329.1,182.35 326.1,181.98 323.1,181.68 320.0,181.43 317.0,181.23 314.0,181.06 311.0,180.93 308.0,180.83 Z" fill="#8a9bc9"/>
<path d="M308.0,185.30 311.0,185.38 314.0,185.48 317.0,185.61 320.0,185.77 323.1,185.97 326.1,186.21 329.1,186.50 332.1,186.85 335.1,187.28 338.1,187.79 341.1,188.38 344.1,189.06 347.2,189.83 350.2,190.68 353.2,191.61 356.2,192.58 359.2,193.58 362.2,194.57 365.2,195.55 368.2,196.47 371.3,197.32 374.3,198.09 377.3,198.77 380.3,199.36 383.3,199.87 386.3,200.30 389.3,200.65 392.3,200.94 395.4,201.18 398.4,201.38 401.4,201.54 404.4,201.66 407.4,201.77 L407.4,203.73 404.4,203.63 401.4,203.50 398.4,203.34 395.4,203.15 392.3,202.91 389.3,202.61 386.3,202.26 383.3,201.83 380.3,201.32 377.3,200.73 374.3,200.05 371.3,199.27 368.2,198.42 365.2,197.50 362.2,196.52 359.2,195.52 356.2,194.52 353.2,193.54 350.2,192.62 347.2,191.76 344.1,190.99 341.1,190.31 338.1,189.71 335.1,189.21 332.1,188.78 329.1,188.42 326.1,188.13 323.1,187.89 320.0,187.69 317.0,187.53 314.0,187.40 311.0,187.30 308.0,187.22 Z" fill="#8a9bc9"/>
<path d="M308.0,201.92 311.0,201.93 314.0,201.94 317.0,201.95 320.0,201.97 323.1,201.99 326.1,202.02 329.1,202.05 332.1,202.09 335.1,202.14 338.1,202.19 341.1,202.26 344.1,202.33 347.2,202.42 350.2,202.51 353.2,202.61 356.2,202.72 359.2,202.83 362.2,202.94 365.2,203.05 368.2,203.15 371.3,203.24 374.3,203.33 377.3,203.40 380.3,203.47 383.3,203.52 386.3,203.57 389.3,203.61 392.3,203.64 395.4,203.67 398.4,203.69 401.4,203.71 404.4,203.72 407.4,203.73 L407.4,205.70 404.4,205.69 401.4,205.67 398.4,205.66 395.4,205.63 392.3,205.61 389.3,205.57 386.3,205.53 383.3,205.49 380.3,205.43 377.3,205.36 374.3,205.28 371.3,205.20 368.2,205.10 365.2,205.00 362.2,204.89 359.2,204.77 356.2,204.66 353.2,204.55 350.2,204.45 347.2,204.35 344.1,204.26 341.1,204.19 338.1,204.12 335.1,204.06 332.1,204.02 329.1,203.98 326.1,203.94 323.1,203.92 320.0,203.89 317.0,203.88 314.0,203.86 311.0,203.85 308.0,203.84 Z" fill="#8a9bc9"/>
<path d="M308.0,180.83 311.0,180.97 314.0,181.14 317.0,181.35 320.0,181.62 323.1,181.95 326.1,182.35 329.1,182.84 332.1,183.44 335.1,184.16 338.1,185.01 341.1,186.00 344.1,187.15 347.2,188.44 350.2,189.88 353.2,191.43 356.2,193.06 359.2,194.74 362.2,196.41 365.2,198.05 368.2,199.60 371.3,201.03 374.3,202.32 377.3,203.47 380.3,204.46 383.3,205.31 386.3,206.03 389.3,206.62 392.3,207.12 395.4,207.52 398.4,207.85 401.4,208.11 404.4,208.33 407.4,208.50 L407.4,210.38 404.4,210.21 401.4,210.00 398.4,209.73 395.4,209.40 392.3,209.00 389.3,208.51 386.3,207.91 383.3,207.20 380.3,206.35 377.3,205.35 374.3,204.21 371.3,202.92 368.2,201.49 365.2,199.94 362.2,198.31 359.2,196.64 356.2,194.96 353.2,193.33 350.2,191.78 347.2,190.35 344.1,189.06 341.1,187.92 338.1,186.92 335.1,186.07 332.1,185.36 329.1,184.76 326.1,184.27 323.1,183.87 320.0,183.54 317.0,183.27 314.0,183.06 311.0,182.89 308.0,182.75 Z" fill="#86d3c3"/>
<path d="M308.0,187.22 311.0,187.34 314.0,187.48 317.0,187.66 320.0,187.88 323.1,188.16 326.1,188.49 329.1,188.91 332.1,189.41 335.1,190.01 338.1,190.72 341.1,191.55 344.1,192.51 347.2,193.59 350.2,194.79 353.2,196.09 356.2,197.46 359.2,198.86 362.2,200.26 365.2,201.63 368.2,202.93 371.3,204.13 374.3,205.21 377.3,206.17 380.3,207.00 383.3,207.71 386.3,208.31 389.3,208.81 392.3,209.22 395.4,209.56 398.4,209.84 401.4,210.06 404.4,210.24 407.4,210.38 L407.4,212.26 404.4,212.12 401.4,211.94 398.4,211.72 395.4,211.44 392.3,211.10 389.3,210.69 386.3,210.19 383.3,209.60 380.3,208.89 377.3,208.05 374.3,207.10 371.3,206.02 368.2,204.82 365.2,203.53 362.2,202.16 359.2,200.76 356.2,199.36 353.2,197.99 350.2,196.70 347.2,195.50 344.1,194.42 341.1,193.46 338.1,192.63 335.1,191.92 332.1,191.32 329.1,190.82 326.1,190.41 323.1,190.07 320.0,189.80 317.0,189.58 314.0,189.40 311.0,189.25 308.0,189.14 Z" fill="#86d3c3"/>
<path d="M308.0,193.61 311.0,193.70 314.0,193.82 317.0,193.96 320.0,194.14 323.1,194.36 326.1,194.64 329.1,194.97 332.1,195.37 335.1,195.85 338.1,196.43 341.1,197.10 344.1,197.87 347.2,198.74 350.2,199.71 353.2,200.75 356.2,201.85 359.2,202.98 362.2,204.11 365.2,205.22 368.2,206.26 371.3,207.22 374.3,208.10 377.3,208.87 380.3,209.54 383.3,210.11 386.3,210.59 389.3,211.00 392.3,211.33 395.4,211.60 398.4,211.82 401.4,212.00 404.4,212.14 407.4,212.26 L407.4,214.14 404.4,214.02 401.4,213.88 398.4,213.70 395.4,213.48 392.3,213.21 389.3,212.88 386.3,212.48 383.3,212.00 380.3,211.42 377.3,210.75 374.3,209.98 371.3,209.11 368.2,208.15 365.2,207.11 362.2,206.01 359.2,204.88 356.2,203.75 353.2,202.66 350.2,201.61 347.2,200.65 344.1,199.78 341.1,199.01 338.1,198.34 335.1,197.77 332.1,197.29 329.1,196.88 326.1,196.55 323.1,196.28 320.0,196.06 317.0,195.88 314.0,195.74 311.0,195.62 308.0,195.53 Z" fill="#86d3c3"/>
<path d="M308.0,203.84 311.0,203.89 314.0,203.96 317.0,204.03 320.0,204.13 323.1,204.26 326.1,204.41 329.1,204.59 332.1,204.81 335.1,205.08 338.1,205.40 341.1,205.77 344.1,206.19 347.2,206.67 350.2,207.21 353.2,207.78 356.2,208.39 359.2,209.02 362.2,209.64 365.2,210.25 368.2,210.83 371.3,211.36 374.3,211.84 377.3,212.27 380.3,212.64 383.3,212.95 386.3,213.22 389.3,213.44 392.3,213.63 395.4,213.78 398.4,213.90 401.4,214.00 404.4,214.08 407.4,214.14 L407.4,216.02 404.4,215.96 401.4,215.88 398.4,215.78 395.4,215.66 392.3,215.51 389.3,215.32 386.3,215.10 383.3,214.84 380.3,214.52 377.3,214.15 374.3,213.73 371.3,213.25 368.2,212.72 365.2,212.14 362.2,211.54 359.2,210.92 356.2,210.29 353.2,209.69 350.2,209.11 347.2,208.58 344.1,208.10 341.1,207.68 338.1,207.31 335.1,206.99 332.1,206.73 329.1,206.51 326.1,206.32 323.1,206.17 320.0,206.05 317.0,205.95 314.0,205.87 311.0,205.81 308.0,205.76 Z" fill="#86d3c3"/>
<path d="M308.0,212.15 311.0,212.17 314.0,212.19 317.0,212.22 320.0,212.26 323.1,212.31 326.1,212.36 329.1,212.43 332.1,212.52 335.1,212.62 338.1,212.73 341.1,212.87 344.1,213.03 347.2,213.21 350.2,213.42 353.2,213.63 356.2,213.86 359.2,214.10 362.2,214.33 365.2,214.56 368.2,214.77 371.3,214.97 374.3,215.16 377.3,215.32 380.3,215.46 383.3,215.57 386.3,215.67 389.3,215.76 392.3,215.83 395.4,215.88 398.4,215.93 401.4,215.97 404.4,216.00 407.4,216.02 L407.4,217.90 404.4,217.88 401.4,217.85 398.4,217.81 395.4,217.76 392.3,217.71 389.3,217.64 386.3,217.56 383.3,217.46 380.3,217.34 377.3,217.20 374.3,217.04 371.3,216.87 368.2,216.67 365.2,216.45 362.2,216.23 359.2,215.99 356.2,215.76 353.2,215.54 350.2,215.32 347.2,215.12 344.1,214.94 341.1,214.79 338.1,214.65 335.1,214.53 332.1,214.43 329.1,214.35 326.1,214.28 323.1,214.22 320.0,214.18 317.0,214.14 314.0,214.11 311.0,214.09 308.0,214.07 Z" fill="#86d3c3"/>
<path d="M308.0,195.53 311.0,195.66 314.0,195.81 317.0,196.01 320.0,196.26 323.1,196.56 326.1,196.93 329.1,197.38 332.1,197.93 335.1,198.59 338.1,199.38 341.1,200.29 344.1,201.35 347.2,202.54 350.2,203.86 353.2,205.28 356.2,206.79 359.2,208.33 362.2,209.88 365.2,211.38 368.2,212.80 371.3,214.12 374.3,215.31 377.3,216.37 380.3,217.28 383.3,218.06 386.3,218.72 389.3,219.27 392.3,219.73 395.4,220.10 398.4,220.40 401.4,220.65 404.4,220.84 407.4,221.00 L407.4,222.82 404.4,222.67 401.4,222.47 398.4,222.23 395.4,221.93 392.3,221.56 389.3,221.11 386.3,220.56 383.3,219.90 380.3,219.12 377.3,218.21 374.3,217.16 371.3,215.97 368.2,214.66 365.2,213.24 362.2,211.74 359.2,210.20 356.2,208.66 353.2,207.17 350.2,205.75 347.2,204.43 344.1,203.25 341.1,202.20 338.1,201.28 335.1,200.50 332.1,199.85 329.1,199.30 326.1,198.85 323.1,198.47 320.0,198.17 317.0,197.93 314.0,197.73 311.0,197.58 308.0,197.45 Z" fill="#c9e2a1"/>
<path d="M308.0,205.76 311.0,205.84 314.0,205.95 317.0,206.08 320.0,206.25 323.1,206.45 326.1,206.70 329.1,207.00 332.1,207.37 335.1,207.81 338.1,208.34 341.1,208.95 344.1,209.66 347.2,210.46 350.2,211.34 353.2,212.29 356.2,213.30 359.2,214.34 362.2,215.37 365.2,216.38 368.2,217.33 371.3,218.22 374.3,219.01 377.3,219.72 380.3,220.33 383.3,220.86 386.3,221.30 389.3,221.67 392.3,221.97 395.4,222.22 398.4,222.42 401.4,222.59 404.4,222.72 407.4,222.82 L407.4,224.65 404.4,224.54 401.4,224.41 398.4,224.25 395.4,224.05 392.3,223.80 389.3,223.50 386.3,223.13 383.3,222.69 380.3,222.17 377.3,221.56 374.3,220.86 371.3,220.07 368.2,219.19 365.2,218.24 362.2,217.24 359.2,216.21 356.2,215.18 353.2,214.18 350.2,213.23 347.2,212.35 344.1,211.56 341.1,210.85 338.1,210.24 335.1,209.72 332.1,209.28 329.1,208.92 326.1,208.61 323.1,208.37 320.0,208.16 317.0,208.00 314.0,207.87 311.0,207.76 308.0,207.68 Z" fill="#c9e2a1"/>
<path d="M308.0,214.07 311.0,214.12 314.0,214.19 317.0,214.27 320.0,214.37 323.1,214.50 326.1,214.65 329.1,214.84 332.1,215.07 335.1,215.34 338.1,215.67 341.1,216.05 344.1,216.49 347.2,216.98 350.2,217.53 353.2,218.12 356.2,218.75 359.2,219.39 362.2,220.03 365.2,220.65 368.2,221.25 371.3,221.79 374.3,222.29 377.3,222.73 380.3,223.11 383.3,223.43 386.3,223.70 389.3,223.93 392.3,224.12 395.4,224.28 398.4,224.40 401.4,224.50 404.4,224.58 407.4,224.65 L407.4,226.48 404.4,226.41 401.4,226.33 398.4,226.23 395.4,226.10 392.3,225.95 389.3,225.76 386.3,225.54 383.3,225.27 380.3,224.94 377.3,224.57 374.3,224.13 371.3,223.64 368.2,223.10 365.2,222.51 362.2,221.90 359.2,221.26 356.2,220.62 353.2,220.00 350.2,219.42 347.2,218.88 344.1,218.38 341.1,217.95 338.1,217.57 335.1,217.25 332.1,216.98 329.1,216.75 326.1,216.57 323.1,216.41 320.0,216.29 317.0,216.19 314.0,216.11 311.0,216.04 308.0,215.99 Z" fill="#c9e2a1"/>
<path d="M308.0,218.54 311.0,218.58 314.0,218.63 317.0,218.69 320.0,218.77 323.1,218.86 326.1,218.98 329.1,219.12 332.1,219.29 335.1,219.49 338.1,219.74 341.1,220.02 344.1,220.35 347.2,220.72 350.2,221.13 353.2,221.58 356.2,222.05 359.2,222.53 362.2,223.01 365.2,223.48 368.2,223.92 371.3,224.33 374.3,224.70 377.3,225.03 380.3,225.32 383.3,225.56 386.3,225.77 389.3,225.94 392.3,226.08 395.4,226.19 398.4,226.29 401.4,226.36 404.4,226.43 407.4,226.48 L407.4,228.30 404.4,228.25 401.4,228.19 398.4,228.12 395.4,228.02 392.3,227.91 389.3,227.77 386.3,227.60 383.3,227.40 380.3,227.16 377.3,226.87 374.3,226.55 371.3,226.18 368.2,225.78 365.2,225.34 362.2,224.88 359.2,224.40 356.2,223.92 353.2,223.46 350.2,223.02 347.2,222.62 344.1,222.25 341.1,221.93 338.1,221.64 335.1,221.40 332.1,221.20 329.1,221.03 326.1,220.89 323.1,220.78 320.0,220.68 317.0,220.61 314.0,220.55 311.0,220.50 308.0,220.46 Z" fill="#c9e2a1"/>
<path d="M308.0,223.01 311.0,223.05 314.0,223.10 317.0,223.17 320.0,223.25 323.1,223.35 326.1,223.47 329.1,223.62 332.1,223.80 335.1,224.02 338.1,224.28 341.1,224.58 344.1,224.93 347.2,225.32 350.2,225.75 353.2,226.22 356.2,226.72 359.2,227.23 362.2,227.74 365.2,228.23 368.2,228.70 371.3,229.13 374.3,229.53 377.3,229.87 380.3,230.18 383.3,230.43 386.3,230.65 389.3,230.83 392.3,230.98 395.4,231.10 398.4,231.20 401.4,231.28 404.4,231.35 407.4,231.40 L407.4,233.20 404.4,233.15 401.4,233.08 398.4,233.01 395.4,232.91 392.3,232.79 389.3,232.64 386.3,232.46 383.3,232.25 380.3,231.99 377.3,231.70 374.3,231.35 371.3,230.97 368.2,230.54 365.2,230.08 362.2,229.59 359.2,229.09 356.2,228.58 353.2,228.10 350.2,227.63 347.2,227.21 344.1,226.82 341.1,226.48 338.1,226.18 335.1,225.93 332.1,225.71 329.1,225.53 326.1,225.38 323.1,225.26 320.0,225.17 317.0,225.09 314.0,225.02 311.0,224.97 308.0,224.93 Z" fill="#8c6447"/>
<path d="M308.0,227.48 311.0,227.51 314.0,227.54 317.0,227.59 320.0,227.64 323.1,227.71 326.1,227.79 329.1,227.90 332.1,228.02 335.1,228.17 338.1,228.34 341.1,228.55 344.1,228.79 347.2,229.05 350.2,229.35 353.2,229.67 356.2,230.01 359.2,230.35 362.2,230.70 365.2,231.04 368.2,231.36 371.3,231.66 374.3,231.92 377.3,232.16 380.3,232.37 383.3,232.54 386.3,232.69 389.3,232.81 392.3,232.91 395.4,233.00 398.4,233.07 401.4,233.12 404.4,233.16 407.4,233.20 L407.4,235.00 404.4,234.97 401.4,234.92 398.4,234.87 395.4,234.80 392.3,234.72 389.3,234.62 386.3,234.50 383.3,234.35 380.3,234.18 377.3,233.98 374.3,233.75 371.3,233.49 368.2,233.20 365.2,232.88 362.2,232.55 359.2,232.21 356.2,231.87 353.2,231.54 350.2,231.23 347.2,230.94 344.1,230.68 341.1,230.45 338.1,230.25 335.1,230.07 332.1,229.93 329.1,229.81 326.1,229.71 323.1,229.63 320.0,229.56 317.0,229.51 314.0,229.46 311.0,229.43 308.0,229.40 Z" fill="#8c6447"/>
<path d="M308.0,231.95 311.0,231.97 314.0,231.98 317.0,232.01 320.0,232.04 323.1,232.07 326.1,232.12 329.1,232.17 332.1,232.24 335.1,232.32 338.1,232.41 341.1,232.52 344.1,232.65 347.2,232.79 350.2,232.95 353.2,233.12 356.2,233.30 359.2,233.48 362.2,233.67 365.2,233.85 368.2,234.02 371.3,234.18 374.3,234.32 377.3,234.45 380.3,234.55 383.3,234.65 386.3,234.73 389.3,234.79 392.3,234.85 395.4,234.89 398.4,234.93 401.4,234.96 404.4,234.98 407.4,235.00 L407.4,236.80 404.4,236.78 401.4,236.76 398.4,236.73 395.4,236.70 392.3,236.65 389.3,236.60 386.3,236.54 383.3,236.46 380.3,236.37 377.3,236.27 374.3,236.15 371.3,236.01 368.2,235.86 365.2,235.69 362.2,235.52 359.2,235.34 356.2,235.16 353.2,234.99 350.2,234.83 347.2,234.68 344.1,234.54 341.1,234.42 338.1,234.31 335.1,234.22 332.1,234.15 329.1,234.08 326.1,234.03 323.1,233.99 320.0,233.95 317.0,233.93 314.0,233.90 311.0,233.88 308.0,233.87 Z" fill="#8c6447"/>
<path d="M308.0,236.42 311.0,236.42 314.0,236.42 317.0,236.43 320.0,236.43 323.1,236.44 326.1,236.44 329.1,236.45 332.1,236.46 335.1,236.47 338.1,236.48 341.1,236.49 344.1,236.51 347.2,236.52 350.2,236.54 353.2,236.57 356.2,236.59 359.2,236.61 362.2,236.63 365.2,236.66 368.2,236.68 371.3,236.70 374.3,236.72 377.3,236.73 380.3,236.74 383.3,236.76 386.3,236.77 389.3,236.77 392.3,236.78 395.4,236.79 398.4,236.79 401.4,236.79 404.4,236.80 407.4,236.80 L407.4,238.60 404.4,238.60 401.4,238.60 398.4,238.59 395.4,238.59 392.3,238.59 389.3,238.58 386.3,238.58 383.3,238.57 380.3,238.56 377.3,238.55 374.3,238.54 371.3,238.53 368.2,238.52 365.2,238.50 362.2,238.49 359.2,238.47 356.2,238.45 353.2,238.44 350.2,238.43 347.2,238.41 344.1,238.40 341.1,238.39 338.1,238.38 335.1,238.37 332.1,238.36 329.1,238.36 326.1,238.35 323.1,238.35 320.0,238.35 317.0,238.34 314.0,238.34 311.0,238.34 308.0,238.34 Z" fill="#8c6447"/>
</g>
<rect x="407.4" y="96.3" width="4.70" height="20.00" fill="#f5584c"/>
<text x="406.3" y="107.85" text-anchor="end" style="font-family:'Liberation Sans',sans-serif;font-size:4.3px" fill="#1a1a1a">Ras signaling pathway</text>
<rect x="407.4" y="118.6" width="4.70" height="19.50" fill="#1fc2dc"/>
<text x="406.3" y="129.90" text-anchor="end" style="font-family:'Liberation Sans',sans-serif;font-size:4.3px" fill="#1a1a1a">Human immunodeficiency virus 1 infection</text>
<rect x="407.4" y="140.7" width="4.70" height="18.00" fill="#17a587"/>
<text x="406.3" y="151.25" text-anchor="end" style="font-family:'Liberation Sans',sans-serif;font-size:4.3px" fill="#1a1a1a">Alcoholic liver disease</text>
<rect x="407.4" y="161.8" width="4.70" height="13.00" fill="#3b5c9a"/>
<text x="406.3" y="169.85" text-anchor="end" style="font-family:'Liberation Sans',sans-serif;font-size:4.3px" fill="#1a1a1a">Cell cycle</text>
<rect x="407.4" y="178.0" width="4.70" height="13.40" fill="#f9a183"/>
<text x="406.3" y="186.25" text-anchor="end" style="font-family:'Liberation Sans',sans-serif;font-size:4.3px" fill="#1a1a1a">Retrograde endocannabinoid signaling</text>
<rect x="407.4" y="193.9" width="4.70" height="11.80" fill="#8a9bc9"/>
<text x="406.3" y="201.35" text-anchor="end" style="font-family:'Liberation Sans',sans-serif;font-size:4.3px" fill="#1a1a1a">PPAR signaling pathway</text>
<rect x="407.4" y="208.5" width="4.70" height="9.40" fill="#86d3c3"/>
<text x="406.3" y="214.75" text-anchor="end" style="font-family:'Liberation Sans',sans-serif;font-size:4.3px" fill="#1a1a1a">Fatty acid degradation</text>
<rect x="407.4" y="221.0" width="4.70" height="7.30" fill="#c9e2a1"/>
<text x="406.3" y="226.20" text-anchor="end" style="font-family:'Liberation Sans',sans-serif;font-size:4.3px" fill="#1a1a1a">beta-Alanine metabolism</text>
<rect x="407.4" y="231.4" width="4.70" height="7.20" fill="#8c6447"/>
<text x="406.3" y="236.55" text-anchor="end" style="font-family:'Liberation Sans',sans-serif;font-size:4.3px" fill="#1a1a1a">Porphyrin metabolism</text>
<rect x="417.6" y="96.6" width="74.00" height="142.40" fill="#fff" stroke="#7a7a7a" stroke-width="0.8"/>
<circle cx="488.3" cy="106.6" r="2.4" fill="#28338f"/>
<circle cx="488.3" cy="128.5" r="2.4" fill="#28338f"/>
<circle cx="477.2" cy="150.1" r="2.3" fill="#f51919"/>
<circle cx="454.9" cy="168.3" r="2.05" fill="#3a2a95"/>
<circle cx="454.9" cy="184.5" r="2.05" fill="#1f46ab"/>
<circle cx="443.7" cy="200.0" r="1.85" fill="#5a2a92"/>
<circle cx="432.6" cy="213.2" r="1.6" fill="#b8246a"/>
<circle cx="421.2" cy="224.6" r="1.15" fill="#b0237e"/>
<circle cx="421.2" cy="234.9" r="1.1" fill="#2a3aa4"/>
<line x1="441.4" y1="239.0" x2="441.4" y2="241.0" stroke="#7a7a7a" stroke-width="0.7"/>
<text x="441.4" y="245.9" text-anchor="middle" style="font-family:'Liberation Sans',sans-serif;font-size:5.6px" fill="#3a3a3a">0.04</text>
<line x1="473.9" y1="239.0" x2="473.9" y2="241.0" stroke="#7a7a7a" stroke-width="0.7"/>
<text x="473.9" y="245.9" text-anchor="middle" style="font-family:'Liberation Sans',sans-serif;font-size:5.6px" fill="#3a3a3a">0.06</text>
<text x="454.8" y="253.4" text-anchor="middle" style="font-family:'Liberation Sans',sans-serif;font-size:7.6px" fill="#111">Gene.Ratio</text>
<defs><linearGradient id="cb" x1="0" y1="0" x2="0" y2="1"><stop offset="0" stop-color="#ff0000"/><stop offset="0.5" stop-color="#8a1a7a"/><stop offset="1" stop-color="#1c3ca0"/></linearGradient></defs>
<rect x="499.6" y="111.3" width="3" height="47.4" fill="url(#cb)"/>
<line x1="502.6" y1="124.7" x2="504.0" y2="124.7" stroke="#555" stroke-width="0.6"/>
<text x="505.5" y="126.80" style="font-family:'Liberation Sans',sans-serif;font-size:5.9px" fill="#222">3.0</text>
<line x1="502.6" y1="142.0" x2="504.0" y2="142.0" stroke="#555" stroke-width="0.6"/>
<text x="505.5" y="144.10" style="font-family:'Liberation Sans',sans-serif;font-size:5.9px" fill="#222">2.5</text>
<text x="500.9" y="109.3" style="font-family:'Liberation Sans',sans-serif;font-size:7.3px" fill="#111">-log<tspan font-size="5.1px" dy="1.7">10</tspan><tspan dy="-1.7">(Pvalue)</tspan></text>
<text x="509.8" y="185.8" style="font-family:'Liberation Sans',sans-serif;font-size:7.1px" fill="#222">Count</text>
<circle cx="508.2" cy="192.8" r="0.9" fill="#000"/>
<text x="517.6" y="194.50" style="font-family:'Liberation Sans',sans-serif;font-size:4.8px" fill="#444">4</text>
<circle cx="508.2" cy="201.1" r="1.3" fill="#000"/>
<text x="517.6" y="202.80" style="font-family:'Liberation Sans',sans-serif;font-size:4.8px" fill="#444">5</text>
<circle cx="508.2" cy="209.3" r="1.75" fill="#000"/>
<text x="517.6" y="211.00" style="font-family:'Liberation Sans',sans-serif;font-size:4.8px" fill="#444">7</text>
<circle cx="508.2" cy="217.7" r="2.05" fill="#000"/>
<text x="517.6" y="219.40" style="font-family:'Liberation Sans',sans-serif;font-size:4.8px" fill="#444">8</text>
<g stroke="#000" stroke-width="1.0" fill="none">
<line x1="298.4" y1="296.3" x2="298.4" y2="335.2"/>
<line x1="298.4" y1="340.6" x2="298.4" y2="378.4"/>
<line x1="298.4" y1="382.6" x2="298.4" y2="424.3"/>
<line x1="296.9" y1="337.2" x2="299.9" y2="334.8"/>
<line x1="296.9" y1="341.0" x2="299.9" y2="338.6"/>
<line x1="296.9" y1="380.4" x2="299.9" y2="378.0"/>
<line x1="296.9" y1="383.0" x2="299.9" y2="380.6"/>
<line x1="294.79999999999995" y1="301.8" x2="298.4" y2="301.8"/>
<line x1="294.79999999999995" y1="310.9" x2="298.4" y2="310.9"/>
<line x1="294.79999999999995" y1="319.9" x2="298.4" y2="319.9"/>
<line x1="294.79999999999995" y1="329.0" x2="298.4" y2="329.0"/>
<line x1="294.79999999999995" y1="349.3" x2="298.4" y2="349.3"/>
<line x1="294.79999999999995" y1="371.9" x2="298.4" y2="371.9"/>
<line x1="294.79999999999995" y1="401.1" x2="298.4" y2="401.1"/>
<line x1="294.79999999999995" y1="423.8" x2="298.4" y2="423.8"/>
</g>
<text x="294.3" y="303.70" text-anchor="end" style="font-family:'Liberation Serif',serif;font-weight:bold;font-size:5.4px" fill="#000" stroke="#000" stroke-width="0.12">24</text>
<text x="294.3" y="312.80" text-anchor="end" style="font-family:'Liberation Serif',serif;font-weight:bold;font-size:5.4px" fill="#000" stroke="#000" stroke-width="0.12">22</text>
<text x="294.3" y="321.80" text-anchor="end" style="font-family:'Liberation Serif',serif;font-weight:bold;font-size:5.4px" fill="#000" stroke="#000" stroke-width="0.12">20</text>
<text x="294.3" y="330.90" text-anchor="end" style="font-family:'Liberation Serif',serif;font-weight:bold;font-size:5.4px" fill="#000" stroke="#000" stroke-width="0.12">18</text>
<text x="294.3" y="351.20" text-anchor="end" style="font-family:'Liberation Serif',serif;font-weight:bold;font-size:5.4px" fill="#000" stroke="#000" stroke-width="0.12">15</text>
<text x="294.3" y="373.80" text-anchor="end" style="font-family:'Liberation Serif',serif;font-weight:bold;font-size:5.4px" fill="#000" stroke="#000" stroke-width="0.12">10</text>
<text x="294.3" y="403.00" text-anchor="end" style="font-family:'Liberation Serif',serif;font-weight:bold;font-size:5.4px" fill="#000" stroke="#000" stroke-width="0.12">5</text>
<text x="294.3" y="425.70" text-anchor="end" style="font-family:'Liberation Serif',serif;font-weight:bold;font-size:5.4px" fill="#000" stroke="#000" stroke-width="0.12">0</text>
<line x1="297.9" y1="423.8" x2="544.2" y2="423.8" stroke="#000" stroke-width="1.35"/>
<text transform="translate(282.6,360.7) rotate(-90)" text-anchor="middle" textLength="67" lengthAdjust="spacingAndGlyphs" style="font-family:'Liberation Serif',serif;font-weight:bold;font-size:6.5px" fill="#111">Relative mRNA Level</text>
<line x1="306.40" y1="395.2" x2="306.40" y2="402.5" stroke="#111" stroke-width="0.85"/>
<line x1="304.40" y1="395.2" x2="308.40" y2="395.2" stroke="#111" stroke-width="0.85"/>
<rect x="302.55" y="402.5" width="7.70" height="21.30" fill="#000"/>
<line x1="318.25" y1="414.3" x2="318.25" y2="416.7" stroke="#111" stroke-width="0.85"/>
<line x1="316.25" y1="414.3" x2="320.25" y2="414.3" stroke="#111" stroke-width="0.85"/>
<rect x="314.90" y="417.15" width="6.70" height="6.65" fill="#b4b4b4" stroke="#000" stroke-width="0.9"/>
<text x="318.50" y="417.20" text-anchor="middle" letter-spacing="0.2" style="font-family:'Liberation Sans',sans-serif;font-weight:bold;font-size:9.4px" fill="#333" stroke="#333" stroke-width="0.3">**</text>
<line x1="312.10" y1="423.8" x2="312.10" y2="427.40000000000003" stroke="#000" stroke-width="1.0"/>
<text x="312.10" y="434.9" text-anchor="middle" style="font-family:'Liberation Serif',serif;font-weight:bold;font-size:5.9px" fill="#000" stroke="#000" stroke-width="0.18">THRSP</text>
<line x1="337.47" y1="408.3" x2="337.47" y2="410.9" stroke="#111" stroke-width="0.85"/>
<line x1="335.47" y1="408.3" x2="339.47" y2="408.3" stroke="#111" stroke-width="0.85"/>
<rect x="333.62" y="410.9" width="7.70" height="12.90" fill="#000"/>
<line x1="349.32" y1="417.3" x2="349.32" y2="419.2" stroke="#111" stroke-width="0.85"/>
<line x1="347.32" y1="417.3" x2="351.32" y2="417.3" stroke="#111" stroke-width="0.85"/>
<rect x="345.97" y="419.65" width="6.70" height="4.15" fill="#b4b4b4" stroke="#000" stroke-width="0.9"/>
<text x="349.57" y="420.50" text-anchor="middle" letter-spacing="0.2" style="font-family:'Liberation Sans',sans-serif;font-weight:bold;font-size:9.4px" fill="#333" stroke="#333" stroke-width="0.3">**</text>
<line x1="343.17" y1="423.8" x2="343.17" y2="427.40000000000003" stroke="#000" stroke-width="1.0"/>
<text x="343.17" y="434.9" text-anchor="middle" style="font-family:'Liberation Serif',serif;font-weight:bold;font-size:5.9px" fill="#000" stroke="#000" stroke-width="0.18">SCD1</text>
<line x1="368.54" y1="312.4" x2="368.54" y2="322.4" stroke="#111" stroke-width="0.85"/>
<line x1="366.54" y1="312.4" x2="370.54" y2="312.4" stroke="#111" stroke-width="0.85"/>
<rect x="364.69" y="322.4" width="7.70" height="12.00" fill="#000"/>
<rect x="364.69" y="341.4" width="7.70" height="37.50" fill="#000"/>
<rect x="364.69" y="385.6" width="7.70" height="38.20" fill="#000"/>
<line x1="380.39" y1="416.3" x2="380.39" y2="418.1" stroke="#111" stroke-width="0.85"/>
<line x1="378.39" y1="416.3" x2="382.39" y2="416.3" stroke="#111" stroke-width="0.85"/>
<rect x="377.04" y="418.55" width="6.70" height="5.25" fill="#b4b4b4" stroke="#000" stroke-width="0.9"/>
<text x="380.64" y="418.50" text-anchor="middle" letter-spacing="0.2" style="font-family:'Liberation Sans',sans-serif;font-weight:bold;font-size:9.4px" fill="#333" stroke="#333" stroke-width="0.3">**</text>
<line x1="374.24" y1="423.8" x2="374.24" y2="427.40000000000003" stroke="#000" stroke-width="1.0"/>
<text x="374.24" y="434.9" text-anchor="middle" style="font-family:'Liberation Serif',serif;font-weight:bold;font-size:5.9px" fill="#000" stroke="#000" stroke-width="0.18">ABHD5</text>
<line x1="399.61" y1="391.3" x2="399.61" y2="395.3" stroke="#111" stroke-width="0.85"/>
<line x1="397.61" y1="391.3" x2="401.61" y2="391.3" stroke="#111" stroke-width="0.85"/>
<rect x="395.76" y="395.3" width="7.70" height="28.50" fill="#000"/>
<line x1="411.46" y1="410.0" x2="411.46" y2="413.9" stroke="#111" stroke-width="0.85"/>
<line x1="409.46" y1="410.0" x2="413.46" y2="410.0" stroke="#111" stroke-width="0.85"/>
<rect x="408.11" y="414.35" width="6.70" height="9.45" fill="#b4b4b4" stroke="#000" stroke-width="0.9"/>
<text x="411.71" y="412.20" text-anchor="middle" letter-spacing="0.2" style="font-family:'Liberation Sans',sans-serif;font-weight:bold;font-size:9.4px" fill="#333" stroke="#333" stroke-width="0.3">**</text>
<line x1="405.31" y1="423.8" x2="405.31" y2="427.40000000000003" stroke="#000" stroke-width="1.0"/>
<text x="405.31" y="434.9" text-anchor="middle" style="font-family:'Liberation Serif',serif;font-weight:bold;font-size:5.9px" fill="#000" stroke="#000" stroke-width="0.18">ATF6</text>
<line x1="430.68" y1="405.6" x2="430.68" y2="409.0" stroke="#111" stroke-width="0.85"/>
<line x1="428.68" y1="405.6" x2="432.68" y2="405.6" stroke="#111" stroke-width="0.85"/>
<rect x="426.83" y="409.0" width="7.70" height="14.80" fill="#000"/>
<line x1="442.53" y1="415.0" x2="442.53" y2="417.6" stroke="#111" stroke-width="0.85"/>
<line x1="440.53" y1="415.0" x2="444.53" y2="415.0" stroke="#111" stroke-width="0.85"/>
<rect x="439.18" y="418.05" width="6.70" height="5.75" fill="#b4b4b4" stroke="#000" stroke-width="0.9"/>
<text x="442.78" y="417.40" text-anchor="middle" letter-spacing="0.2" style="font-family:'Liberation Sans',sans-serif;font-weight:bold;font-size:9.4px" fill="#333" stroke="#333" stroke-width="0.3">**</text>
<line x1="436.38" y1="423.8" x2="436.38" y2="427.40000000000003" stroke="#000" stroke-width="1.0"/>
<text x="436.38" y="434.9" text-anchor="middle" style="font-family:'Liberation Serif',serif;font-weight:bold;font-size:5.9px" fill="#000" stroke="#000" stroke-width="0.18">LIPE</text>
<line x1="461.75" y1="406.6" x2="461.75" y2="409.0" stroke="#111" stroke-width="0.85"/>
<line x1="459.75" y1="406.6" x2="463.75" y2="406.6" stroke="#111" stroke-width="0.85"/>
<rect x="457.90" y="409.0" width="7.70" height="14.80" fill="#000"/>
<line x1="473.60" y1="416.0" x2="473.60" y2="418.0" stroke="#111" stroke-width="0.85"/>
<line x1="471.60" y1="416.0" x2="475.60" y2="416.0" stroke="#111" stroke-width="0.85"/>
<rect x="470.25" y="418.45" width="6.70" height="5.35" fill="#b4b4b4" stroke="#000" stroke-width="0.9"/>
<text x="473.85" y="418.60" text-anchor="middle" letter-spacing="0.2" style="font-family:'Liberation Sans',sans-serif;font-weight:bold;font-size:9.4px" fill="#333" stroke="#333" stroke-width="0.3">**</text>
<line x1="467.45" y1="423.8" x2="467.45" y2="427.40000000000003" stroke="#000" stroke-width="1.0"/>
<text x="467.45" y="434.9" text-anchor="middle" style="font-family:'Liberation Serif',serif;font-weight:bold;font-size:5.9px" fill="#000" stroke="#000" stroke-width="0.18">DGAT1</text>
<line x1="492.82" y1="405.0" x2="492.82" y2="407.6" stroke="#111" stroke-width="0.85"/>
<line x1="490.82" y1="405.0" x2="494.82" y2="405.0" stroke="#111" stroke-width="0.85"/>
<rect x="488.97" y="407.6" width="7.70" height="16.20" fill="#000"/>
<line x1="504.67" y1="415.5" x2="504.67" y2="417.6" stroke="#111" stroke-width="0.85"/>
<line x1="502.67" y1="415.5" x2="506.67" y2="415.5" stroke="#111" stroke-width="0.85"/>
<rect x="501.32" y="418.05" width="6.70" height="5.75" fill="#b4b4b4" stroke="#000" stroke-width="0.9"/>
<text x="504.92" y="418.20" text-anchor="middle" letter-spacing="0.2" style="font-family:'Liberation Sans',sans-serif;font-weight:bold;font-size:9.4px" fill="#333" stroke="#333" stroke-width="0.3">**</text>
<line x1="498.52" y1="423.8" x2="498.52" y2="427.40000000000003" stroke="#000" stroke-width="1.0"/>
<text x="498.52" y="434.9" text-anchor="middle" style="font-family:'Liberation Serif',serif;font-weight:bold;font-size:5.9px" fill="#000" stroke="#000" stroke-width="0.18">AGPAT2</text>
<line x1="523.89" y1="404.0" x2="523.89" y2="409.0" stroke="#111" stroke-width="0.85"/>
<line x1="521.89" y1="404.0" x2="525.89" y2="404.0" stroke="#111" stroke-width="0.85"/>
<rect x="520.04" y="409.0" width="7.70" height="14.80" fill="#000"/>
<line x1="535.74" y1="416.0" x2="535.74" y2="418.0" stroke="#111" stroke-width="0.85"/>
<line x1="533.74" y1="416.0" x2="537.74" y2="416.0" stroke="#111" stroke-width="0.85"/>
<rect x="532.39" y="418.45" width="6.70" height="5.35" fill="#b4b4b4" stroke="#000" stroke-width="0.9"/>
<text x="535.99" y="418.60" text-anchor="middle" letter-spacing="0.2" style="font-family:'Liberation Sans',sans-serif;font-weight:bold;font-size:9.4px" fill="#333" stroke="#333" stroke-width="0.3">**</text>
<line x1="529.59" y1="423.8" x2="529.59" y2="427.40000000000003" stroke="#000" stroke-width="1.0"/>
<text x="529.59" y="434.9" text-anchor="middle" style="font-family:'Liberation Serif',serif;font-weight:bold;font-size:5.9px" fill="#000" stroke="#000" stroke-width="0.18">AGPAT3</text>
<rect x="492.8" y="286.9" width="8.5" height="3.8" fill="#000"/>
<rect x="493.25" y="299.45" width="7.6" height="2.9" fill="#b4b4b4" stroke="#000" stroke-width="0.9"/>
<text x="505.6" y="291.4" style="font-family:'Liberation Serif',serif;font-size:6.6px" fill="#222">NC</text>
<text x="505.6" y="303.6" style="font-family:'Liberation Serif',serif;font-size:6.6px" fill="#222">THRSP-SI</text>
</g>
</svg>
</body></html>
